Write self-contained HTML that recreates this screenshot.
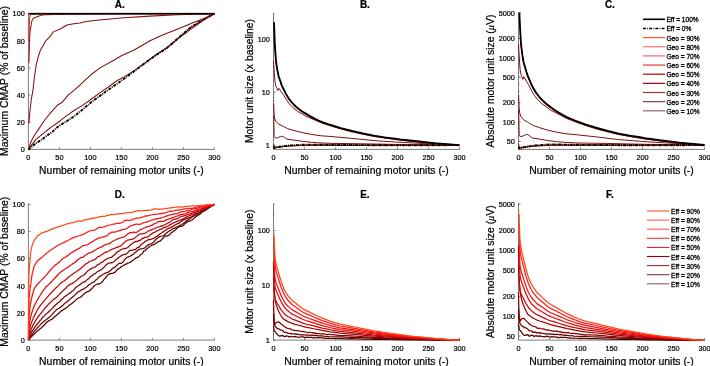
<!DOCTYPE html>
<html><head><meta charset="utf-8"><style>
html,body{margin:0;padding:0;background:#fff;width:710px;height:366px;overflow:hidden}
svg{display:block;filter:blur(0.3px)}
.lg{stroke-width:0.3px}
text{font-family:"Liberation Sans", sans-serif;stroke:#000;stroke-width:0.22px}
</style></head><body>
<svg width="710" height="366" viewBox="0 0 710 366" font-family='"Liberation Sans", sans-serif' fill="#000"><path d="M28.40 13.00V149.40H214.40" fill="none" stroke="#5a5a5a" stroke-width="0.8"/>
<path d="M28.40 149.40v-2.2" stroke="#5a5a5a" stroke-width="0.7"/>
<text x="28.40" y="160.30" font-size="7.8" text-anchor="middle" font-weight="normal" textLength="4.06" lengthAdjust="spacingAndGlyphs" >0</text>
<path d="M59.40 149.40v-2.2" stroke="#5a5a5a" stroke-width="0.7"/>
<text x="59.40" y="160.30" font-size="7.8" text-anchor="middle" font-weight="normal" textLength="8.12" lengthAdjust="spacingAndGlyphs" >50</text>
<path d="M90.40 149.40v-2.2" stroke="#5a5a5a" stroke-width="0.7"/>
<text x="90.40" y="160.30" font-size="7.8" text-anchor="middle" font-weight="normal" textLength="12.18" lengthAdjust="spacingAndGlyphs" >100</text>
<path d="M121.40 149.40v-2.2" stroke="#5a5a5a" stroke-width="0.7"/>
<text x="121.40" y="160.30" font-size="7.8" text-anchor="middle" font-weight="normal" textLength="12.18" lengthAdjust="spacingAndGlyphs" >150</text>
<path d="M152.40 149.40v-2.2" stroke="#5a5a5a" stroke-width="0.7"/>
<text x="152.40" y="160.30" font-size="7.8" text-anchor="middle" font-weight="normal" textLength="12.18" lengthAdjust="spacingAndGlyphs" >200</text>
<path d="M183.40 149.40v-2.2" stroke="#5a5a5a" stroke-width="0.7"/>
<text x="183.40" y="160.30" font-size="7.8" text-anchor="middle" font-weight="normal" textLength="12.18" lengthAdjust="spacingAndGlyphs" >250</text>
<path d="M214.40 149.40v-2.2" stroke="#5a5a5a" stroke-width="0.7"/>
<text x="214.40" y="160.30" font-size="7.8" text-anchor="middle" font-weight="normal" textLength="12.18" lengthAdjust="spacingAndGlyphs" >300</text>
<path d="M28.40 149.40h2.2" stroke="#5a5a5a" stroke-width="0.7"/>
<text x="24.80" y="152.10" font-size="7.8" text-anchor="end" font-weight="normal" textLength="4.06" lengthAdjust="spacingAndGlyphs" >0</text>
<path d="M28.40 122.26h2.2" stroke="#5a5a5a" stroke-width="0.7"/>
<text x="24.80" y="124.96" font-size="7.8" text-anchor="end" font-weight="normal" textLength="8.12" lengthAdjust="spacingAndGlyphs" >20</text>
<path d="M28.40 95.12h2.2" stroke="#5a5a5a" stroke-width="0.7"/>
<text x="24.80" y="97.82" font-size="7.8" text-anchor="end" font-weight="normal" textLength="8.12" lengthAdjust="spacingAndGlyphs" >40</text>
<path d="M28.40 67.98h2.2" stroke="#5a5a5a" stroke-width="0.7"/>
<text x="24.80" y="70.68" font-size="7.8" text-anchor="end" font-weight="normal" textLength="8.12" lengthAdjust="spacingAndGlyphs" >60</text>
<path d="M28.40 40.84h2.2" stroke="#5a5a5a" stroke-width="0.7"/>
<text x="24.80" y="43.54" font-size="7.8" text-anchor="end" font-weight="normal" textLength="8.12" lengthAdjust="spacingAndGlyphs" >80</text>
<path d="M28.40 13.70h2.2" stroke="#5a5a5a" stroke-width="0.7"/>
<text x="24.80" y="16.40" font-size="7.8" text-anchor="end" font-weight="normal" textLength="12.18" lengthAdjust="spacingAndGlyphs" >100</text>
<text x="121.40" y="174.20" font-size="10.4" text-anchor="middle" font-weight="normal" >Number of remaining motor units (-)</text>
<text x="119.80" y="7.60" font-size="10" text-anchor="middle" font-weight="bold" >A.</text>
<path d="M273.50 13.00V149.40H459.50" fill="none" stroke="#5a5a5a" stroke-width="0.8"/>
<path d="M273.50 149.40v-2.2" stroke="#5a5a5a" stroke-width="0.7"/>
<text x="273.50" y="160.30" font-size="7.8" text-anchor="middle" font-weight="normal" textLength="4.06" lengthAdjust="spacingAndGlyphs" >0</text>
<path d="M304.50 149.40v-2.2" stroke="#5a5a5a" stroke-width="0.7"/>
<text x="304.50" y="160.30" font-size="7.8" text-anchor="middle" font-weight="normal" textLength="8.12" lengthAdjust="spacingAndGlyphs" >50</text>
<path d="M335.50 149.40v-2.2" stroke="#5a5a5a" stroke-width="0.7"/>
<text x="335.50" y="160.30" font-size="7.8" text-anchor="middle" font-weight="normal" textLength="12.18" lengthAdjust="spacingAndGlyphs" >100</text>
<path d="M366.50 149.40v-2.2" stroke="#5a5a5a" stroke-width="0.7"/>
<text x="366.50" y="160.30" font-size="7.8" text-anchor="middle" font-weight="normal" textLength="12.18" lengthAdjust="spacingAndGlyphs" >150</text>
<path d="M397.50 149.40v-2.2" stroke="#5a5a5a" stroke-width="0.7"/>
<text x="397.50" y="160.30" font-size="7.8" text-anchor="middle" font-weight="normal" textLength="12.18" lengthAdjust="spacingAndGlyphs" >200</text>
<path d="M428.50 149.40v-2.2" stroke="#5a5a5a" stroke-width="0.7"/>
<text x="428.50" y="160.30" font-size="7.8" text-anchor="middle" font-weight="normal" textLength="12.18" lengthAdjust="spacingAndGlyphs" >250</text>
<path d="M459.50 149.40v-2.2" stroke="#5a5a5a" stroke-width="0.7"/>
<text x="459.50" y="160.30" font-size="7.8" text-anchor="middle" font-weight="normal" textLength="12.18" lengthAdjust="spacingAndGlyphs" >300</text>
<path d="M273.50 145.50h2.2" stroke="#5a5a5a" stroke-width="0.7"/>
<text x="269.90" y="148.20" font-size="7.8" text-anchor="end" font-weight="normal" textLength="4.06" lengthAdjust="spacingAndGlyphs" >1</text>
<path d="M273.50 92.20h2.2" stroke="#5a5a5a" stroke-width="0.7"/>
<text x="269.90" y="94.90" font-size="7.8" text-anchor="end" font-weight="normal" textLength="8.12" lengthAdjust="spacingAndGlyphs" >10</text>
<path d="M273.50 38.90h2.2" stroke="#5a5a5a" stroke-width="0.7"/>
<text x="269.90" y="41.60" font-size="7.8" text-anchor="end" font-weight="normal" textLength="12.18" lengthAdjust="spacingAndGlyphs" >100</text>
<path d="M273.50 129.46h1.2" stroke="#5a5a5a" stroke-width="0.6"/>
<path d="M273.50 120.07h1.2" stroke="#5a5a5a" stroke-width="0.6"/>
<path d="M273.50 113.41h1.2" stroke="#5a5a5a" stroke-width="0.6"/>
<path d="M273.50 108.24h1.2" stroke="#5a5a5a" stroke-width="0.6"/>
<path d="M273.50 104.02h1.2" stroke="#5a5a5a" stroke-width="0.6"/>
<path d="M273.50 100.46h1.2" stroke="#5a5a5a" stroke-width="0.6"/>
<path d="M273.50 97.37h1.2" stroke="#5a5a5a" stroke-width="0.6"/>
<path d="M273.50 94.64h1.2" stroke="#5a5a5a" stroke-width="0.6"/>
<path d="M273.50 76.16h1.2" stroke="#5a5a5a" stroke-width="0.6"/>
<path d="M273.50 66.77h1.2" stroke="#5a5a5a" stroke-width="0.6"/>
<path d="M273.50 60.11h1.2" stroke="#5a5a5a" stroke-width="0.6"/>
<path d="M273.50 54.94h1.2" stroke="#5a5a5a" stroke-width="0.6"/>
<path d="M273.50 50.72h1.2" stroke="#5a5a5a" stroke-width="0.6"/>
<path d="M273.50 47.16h1.2" stroke="#5a5a5a" stroke-width="0.6"/>
<path d="M273.50 44.07h1.2" stroke="#5a5a5a" stroke-width="0.6"/>
<path d="M273.50 41.34h1.2" stroke="#5a5a5a" stroke-width="0.6"/>
<path d="M273.50 22.86h1.2" stroke="#5a5a5a" stroke-width="0.6"/>
<path d="M273.50 13.47h1.2" stroke="#5a5a5a" stroke-width="0.6"/>
<text x="366.50" y="174.20" font-size="10.4" text-anchor="middle" font-weight="normal" >Number of remaining motor units (-)</text>
<text x="364.90" y="7.60" font-size="10" text-anchor="middle" font-weight="bold" >B.</text>
<path d="M518.50 13.00V149.40H704.50" fill="none" stroke="#5a5a5a" stroke-width="0.8"/>
<path d="M518.50 149.40v-2.2" stroke="#5a5a5a" stroke-width="0.7"/>
<text x="518.50" y="160.30" font-size="7.8" text-anchor="middle" font-weight="normal" textLength="4.06" lengthAdjust="spacingAndGlyphs" >0</text>
<path d="M549.50 149.40v-2.2" stroke="#5a5a5a" stroke-width="0.7"/>
<text x="549.50" y="160.30" font-size="7.8" text-anchor="middle" font-weight="normal" textLength="8.12" lengthAdjust="spacingAndGlyphs" >50</text>
<path d="M580.50 149.40v-2.2" stroke="#5a5a5a" stroke-width="0.7"/>
<text x="580.50" y="160.30" font-size="7.8" text-anchor="middle" font-weight="normal" textLength="12.18" lengthAdjust="spacingAndGlyphs" >100</text>
<path d="M611.50 149.40v-2.2" stroke="#5a5a5a" stroke-width="0.7"/>
<text x="611.50" y="160.30" font-size="7.8" text-anchor="middle" font-weight="normal" textLength="12.18" lengthAdjust="spacingAndGlyphs" >150</text>
<path d="M642.50 149.40v-2.2" stroke="#5a5a5a" stroke-width="0.7"/>
<text x="642.50" y="160.30" font-size="7.8" text-anchor="middle" font-weight="normal" textLength="12.18" lengthAdjust="spacingAndGlyphs" >200</text>
<path d="M673.50 149.40v-2.2" stroke="#5a5a5a" stroke-width="0.7"/>
<text x="673.50" y="160.30" font-size="7.8" text-anchor="middle" font-weight="normal" textLength="12.18" lengthAdjust="spacingAndGlyphs" >250</text>
<path d="M704.50 149.40v-2.2" stroke="#5a5a5a" stroke-width="0.7"/>
<text x="704.50" y="160.30" font-size="7.8" text-anchor="middle" font-weight="normal" textLength="12.18" lengthAdjust="spacingAndGlyphs" >300</text>
<path d="M518.50 141.30h2.2" stroke="#5a5a5a" stroke-width="0.7"/>
<text x="514.90" y="144.00" font-size="7.8" text-anchor="end" font-weight="normal" textLength="8.12" lengthAdjust="spacingAndGlyphs" >50</text>
<path d="M518.50 122.00h2.2" stroke="#5a5a5a" stroke-width="0.7"/>
<text x="514.90" y="124.70" font-size="7.8" text-anchor="end" font-weight="normal" textLength="12.18" lengthAdjust="spacingAndGlyphs" >100</text>
<path d="M518.50 102.70h2.2" stroke="#5a5a5a" stroke-width="0.7"/>
<text x="514.90" y="105.40" font-size="7.8" text-anchor="end" font-weight="normal" textLength="12.18" lengthAdjust="spacingAndGlyphs" >200</text>
<path d="M518.50 77.20h2.2" stroke="#5a5a5a" stroke-width="0.7"/>
<text x="514.90" y="79.90" font-size="7.8" text-anchor="end" font-weight="normal" textLength="12.18" lengthAdjust="spacingAndGlyphs" >500</text>
<path d="M518.50 57.90h2.2" stroke="#5a5a5a" stroke-width="0.7"/>
<text x="514.90" y="60.60" font-size="7.8" text-anchor="end" font-weight="normal" textLength="16.24" lengthAdjust="spacingAndGlyphs" >1000</text>
<path d="M518.50 38.60h2.2" stroke="#5a5a5a" stroke-width="0.7"/>
<text x="514.90" y="41.30" font-size="7.8" text-anchor="end" font-weight="normal" textLength="16.24" lengthAdjust="spacingAndGlyphs" >2000</text>
<path d="M518.50 13.10h2.2" stroke="#5a5a5a" stroke-width="0.7"/>
<text x="514.90" y="15.80" font-size="7.8" text-anchor="end" font-weight="normal" textLength="16.24" lengthAdjust="spacingAndGlyphs" >5000</text>
<path d="M518.50 147.51h1.2" stroke="#5a5a5a" stroke-width="0.6"/>
<path d="M518.50 141.30h1.2" stroke="#5a5a5a" stroke-width="0.6"/>
<path d="M518.50 136.22h1.2" stroke="#5a5a5a" stroke-width="0.6"/>
<path d="M518.50 131.93h1.2" stroke="#5a5a5a" stroke-width="0.6"/>
<path d="M518.50 128.21h1.2" stroke="#5a5a5a" stroke-width="0.6"/>
<path d="M518.50 124.93h1.2" stroke="#5a5a5a" stroke-width="0.6"/>
<path d="M518.50 102.70h1.2" stroke="#5a5a5a" stroke-width="0.6"/>
<path d="M518.50 91.42h1.2" stroke="#5a5a5a" stroke-width="0.6"/>
<path d="M518.50 83.41h1.2" stroke="#5a5a5a" stroke-width="0.6"/>
<path d="M518.50 77.20h1.2" stroke="#5a5a5a" stroke-width="0.6"/>
<path d="M518.50 72.12h1.2" stroke="#5a5a5a" stroke-width="0.6"/>
<path d="M518.50 67.83h1.2" stroke="#5a5a5a" stroke-width="0.6"/>
<path d="M518.50 64.11h1.2" stroke="#5a5a5a" stroke-width="0.6"/>
<path d="M518.50 60.83h1.2" stroke="#5a5a5a" stroke-width="0.6"/>
<path d="M518.50 38.60h1.2" stroke="#5a5a5a" stroke-width="0.6"/>
<path d="M518.50 27.32h1.2" stroke="#5a5a5a" stroke-width="0.6"/>
<path d="M518.50 19.31h1.2" stroke="#5a5a5a" stroke-width="0.6"/>
<path d="M518.50 13.10h1.2" stroke="#5a5a5a" stroke-width="0.6"/>
<text x="611.50" y="174.20" font-size="10.4" text-anchor="middle" font-weight="normal" >Number of remaining motor units (-)</text>
<text x="609.90" y="7.60" font-size="10" text-anchor="middle" font-weight="bold" >C.</text>
<path d="M28.40 203.40V340.10H214.40" fill="none" stroke="#5a5a5a" stroke-width="0.8"/>
<path d="M28.40 340.10v-2.2" stroke="#5a5a5a" stroke-width="0.7"/>
<text x="28.40" y="351.00" font-size="7.8" text-anchor="middle" font-weight="normal" textLength="4.06" lengthAdjust="spacingAndGlyphs" >0</text>
<path d="M59.40 340.10v-2.2" stroke="#5a5a5a" stroke-width="0.7"/>
<text x="59.40" y="351.00" font-size="7.8" text-anchor="middle" font-weight="normal" textLength="8.12" lengthAdjust="spacingAndGlyphs" >50</text>
<path d="M90.40 340.10v-2.2" stroke="#5a5a5a" stroke-width="0.7"/>
<text x="90.40" y="351.00" font-size="7.8" text-anchor="middle" font-weight="normal" textLength="12.18" lengthAdjust="spacingAndGlyphs" >100</text>
<path d="M121.40 340.10v-2.2" stroke="#5a5a5a" stroke-width="0.7"/>
<text x="121.40" y="351.00" font-size="7.8" text-anchor="middle" font-weight="normal" textLength="12.18" lengthAdjust="spacingAndGlyphs" >150</text>
<path d="M152.40 340.10v-2.2" stroke="#5a5a5a" stroke-width="0.7"/>
<text x="152.40" y="351.00" font-size="7.8" text-anchor="middle" font-weight="normal" textLength="12.18" lengthAdjust="spacingAndGlyphs" >200</text>
<path d="M183.40 340.10v-2.2" stroke="#5a5a5a" stroke-width="0.7"/>
<text x="183.40" y="351.00" font-size="7.8" text-anchor="middle" font-weight="normal" textLength="12.18" lengthAdjust="spacingAndGlyphs" >250</text>
<path d="M214.40 340.10v-2.2" stroke="#5a5a5a" stroke-width="0.7"/>
<text x="214.40" y="351.00" font-size="7.8" text-anchor="middle" font-weight="normal" textLength="12.18" lengthAdjust="spacingAndGlyphs" >300</text>
<path d="M28.40 340.10h2.2" stroke="#5a5a5a" stroke-width="0.7"/>
<text x="24.80" y="342.80" font-size="7.8" text-anchor="end" font-weight="normal" textLength="4.06" lengthAdjust="spacingAndGlyphs" >0</text>
<path d="M28.40 312.96h2.2" stroke="#5a5a5a" stroke-width="0.7"/>
<text x="24.80" y="315.66" font-size="7.8" text-anchor="end" font-weight="normal" textLength="8.12" lengthAdjust="spacingAndGlyphs" >20</text>
<path d="M28.40 285.82h2.2" stroke="#5a5a5a" stroke-width="0.7"/>
<text x="24.80" y="288.52" font-size="7.8" text-anchor="end" font-weight="normal" textLength="8.12" lengthAdjust="spacingAndGlyphs" >40</text>
<path d="M28.40 258.68h2.2" stroke="#5a5a5a" stroke-width="0.7"/>
<text x="24.80" y="261.38" font-size="7.8" text-anchor="end" font-weight="normal" textLength="8.12" lengthAdjust="spacingAndGlyphs" >60</text>
<path d="M28.40 231.54h2.2" stroke="#5a5a5a" stroke-width="0.7"/>
<text x="24.80" y="234.24" font-size="7.8" text-anchor="end" font-weight="normal" textLength="8.12" lengthAdjust="spacingAndGlyphs" >80</text>
<path d="M28.40 204.40h2.2" stroke="#5a5a5a" stroke-width="0.7"/>
<text x="24.80" y="207.10" font-size="7.8" text-anchor="end" font-weight="normal" textLength="12.18" lengthAdjust="spacingAndGlyphs" >100</text>
<text x="121.40" y="364.90" font-size="10.4" text-anchor="middle" font-weight="normal" >Number of remaining motor units (-)</text>
<text x="119.80" y="198.10" font-size="10" text-anchor="middle" font-weight="bold" >D.</text>
<path d="M273.50 203.40V340.10H459.50" fill="none" stroke="#5a5a5a" stroke-width="0.8"/>
<path d="M273.50 340.10v-2.2" stroke="#5a5a5a" stroke-width="0.7"/>
<text x="273.50" y="351.00" font-size="7.8" text-anchor="middle" font-weight="normal" textLength="4.06" lengthAdjust="spacingAndGlyphs" >0</text>
<path d="M304.50 340.10v-2.2" stroke="#5a5a5a" stroke-width="0.7"/>
<text x="304.50" y="351.00" font-size="7.8" text-anchor="middle" font-weight="normal" textLength="8.12" lengthAdjust="spacingAndGlyphs" >50</text>
<path d="M335.50 340.10v-2.2" stroke="#5a5a5a" stroke-width="0.7"/>
<text x="335.50" y="351.00" font-size="7.8" text-anchor="middle" font-weight="normal" textLength="12.18" lengthAdjust="spacingAndGlyphs" >100</text>
<path d="M366.50 340.10v-2.2" stroke="#5a5a5a" stroke-width="0.7"/>
<text x="366.50" y="351.00" font-size="7.8" text-anchor="middle" font-weight="normal" textLength="12.18" lengthAdjust="spacingAndGlyphs" >150</text>
<path d="M397.50 340.10v-2.2" stroke="#5a5a5a" stroke-width="0.7"/>
<text x="397.50" y="351.00" font-size="7.8" text-anchor="middle" font-weight="normal" textLength="12.18" lengthAdjust="spacingAndGlyphs" >200</text>
<path d="M428.50 340.10v-2.2" stroke="#5a5a5a" stroke-width="0.7"/>
<text x="428.50" y="351.00" font-size="7.8" text-anchor="middle" font-weight="normal" textLength="12.18" lengthAdjust="spacingAndGlyphs" >250</text>
<path d="M459.50 340.10v-2.2" stroke="#5a5a5a" stroke-width="0.7"/>
<text x="459.50" y="351.00" font-size="7.8" text-anchor="middle" font-weight="normal" textLength="12.18" lengthAdjust="spacingAndGlyphs" >300</text>
<path d="M273.50 340.30h2.2" stroke="#5a5a5a" stroke-width="0.7"/>
<text x="269.90" y="343.00" font-size="7.8" text-anchor="end" font-weight="normal" textLength="4.06" lengthAdjust="spacingAndGlyphs" >1</text>
<path d="M273.50 285.45h2.2" stroke="#5a5a5a" stroke-width="0.7"/>
<text x="269.90" y="288.15" font-size="7.8" text-anchor="end" font-weight="normal" textLength="8.12" lengthAdjust="spacingAndGlyphs" >10</text>
<path d="M273.50 230.60h2.2" stroke="#5a5a5a" stroke-width="0.7"/>
<text x="269.90" y="233.30" font-size="7.8" text-anchor="end" font-weight="normal" textLength="12.18" lengthAdjust="spacingAndGlyphs" >100</text>
<path d="M273.50 323.79h1.2" stroke="#5a5a5a" stroke-width="0.6"/>
<path d="M273.50 314.13h1.2" stroke="#5a5a5a" stroke-width="0.6"/>
<path d="M273.50 307.28h1.2" stroke="#5a5a5a" stroke-width="0.6"/>
<path d="M273.50 301.96h1.2" stroke="#5a5a5a" stroke-width="0.6"/>
<path d="M273.50 297.62h1.2" stroke="#5a5a5a" stroke-width="0.6"/>
<path d="M273.50 293.95h1.2" stroke="#5a5a5a" stroke-width="0.6"/>
<path d="M273.50 290.77h1.2" stroke="#5a5a5a" stroke-width="0.6"/>
<path d="M273.50 287.96h1.2" stroke="#5a5a5a" stroke-width="0.6"/>
<path d="M273.50 268.94h1.2" stroke="#5a5a5a" stroke-width="0.6"/>
<path d="M273.50 259.28h1.2" stroke="#5a5a5a" stroke-width="0.6"/>
<path d="M273.50 252.43h1.2" stroke="#5a5a5a" stroke-width="0.6"/>
<path d="M273.50 247.11h1.2" stroke="#5a5a5a" stroke-width="0.6"/>
<path d="M273.50 242.77h1.2" stroke="#5a5a5a" stroke-width="0.6"/>
<path d="M273.50 239.10h1.2" stroke="#5a5a5a" stroke-width="0.6"/>
<path d="M273.50 235.92h1.2" stroke="#5a5a5a" stroke-width="0.6"/>
<path d="M273.50 233.11h1.2" stroke="#5a5a5a" stroke-width="0.6"/>
<path d="M273.50 214.09h1.2" stroke="#5a5a5a" stroke-width="0.6"/>
<path d="M273.50 204.43h1.2" stroke="#5a5a5a" stroke-width="0.6"/>
<text x="366.50" y="364.90" font-size="10.4" text-anchor="middle" font-weight="normal" >Number of remaining motor units (-)</text>
<text x="364.90" y="198.10" font-size="10" text-anchor="middle" font-weight="bold" >E.</text>
<path d="M518.50 203.40V340.10H704.50" fill="none" stroke="#5a5a5a" stroke-width="0.8"/>
<path d="M518.50 340.10v-2.2" stroke="#5a5a5a" stroke-width="0.7"/>
<text x="518.50" y="351.00" font-size="7.8" text-anchor="middle" font-weight="normal" textLength="4.06" lengthAdjust="spacingAndGlyphs" >0</text>
<path d="M549.50 340.10v-2.2" stroke="#5a5a5a" stroke-width="0.7"/>
<text x="549.50" y="351.00" font-size="7.8" text-anchor="middle" font-weight="normal" textLength="8.12" lengthAdjust="spacingAndGlyphs" >50</text>
<path d="M580.50 340.10v-2.2" stroke="#5a5a5a" stroke-width="0.7"/>
<text x="580.50" y="351.00" font-size="7.8" text-anchor="middle" font-weight="normal" textLength="12.18" lengthAdjust="spacingAndGlyphs" >100</text>
<path d="M611.50 340.10v-2.2" stroke="#5a5a5a" stroke-width="0.7"/>
<text x="611.50" y="351.00" font-size="7.8" text-anchor="middle" font-weight="normal" textLength="12.18" lengthAdjust="spacingAndGlyphs" >150</text>
<path d="M642.50 340.10v-2.2" stroke="#5a5a5a" stroke-width="0.7"/>
<text x="642.50" y="351.00" font-size="7.8" text-anchor="middle" font-weight="normal" textLength="12.18" lengthAdjust="spacingAndGlyphs" >200</text>
<path d="M673.50 340.10v-2.2" stroke="#5a5a5a" stroke-width="0.7"/>
<text x="673.50" y="351.00" font-size="7.8" text-anchor="middle" font-weight="normal" textLength="12.18" lengthAdjust="spacingAndGlyphs" >250</text>
<path d="M704.50 340.10v-2.2" stroke="#5a5a5a" stroke-width="0.7"/>
<text x="704.50" y="351.00" font-size="7.8" text-anchor="middle" font-weight="normal" textLength="12.18" lengthAdjust="spacingAndGlyphs" >300</text>
<path d="M518.50 336.17h2.2" stroke="#5a5a5a" stroke-width="0.7"/>
<text x="514.90" y="338.87" font-size="7.8" text-anchor="end" font-weight="normal" textLength="8.12" lengthAdjust="spacingAndGlyphs" >50</text>
<path d="M518.50 316.30h2.2" stroke="#5a5a5a" stroke-width="0.7"/>
<text x="514.90" y="319.00" font-size="7.8" text-anchor="end" font-weight="normal" textLength="12.18" lengthAdjust="spacingAndGlyphs" >100</text>
<path d="M518.50 296.43h2.2" stroke="#5a5a5a" stroke-width="0.7"/>
<text x="514.90" y="299.13" font-size="7.8" text-anchor="end" font-weight="normal" textLength="12.18" lengthAdjust="spacingAndGlyphs" >200</text>
<path d="M518.50 270.17h2.2" stroke="#5a5a5a" stroke-width="0.7"/>
<text x="514.90" y="272.87" font-size="7.8" text-anchor="end" font-weight="normal" textLength="12.18" lengthAdjust="spacingAndGlyphs" >500</text>
<path d="M518.50 250.30h2.2" stroke="#5a5a5a" stroke-width="0.7"/>
<text x="514.90" y="253.00" font-size="7.8" text-anchor="end" font-weight="normal" textLength="16.24" lengthAdjust="spacingAndGlyphs" >1000</text>
<path d="M518.50 230.43h2.2" stroke="#5a5a5a" stroke-width="0.7"/>
<text x="514.90" y="233.13" font-size="7.8" text-anchor="end" font-weight="normal" textLength="16.24" lengthAdjust="spacingAndGlyphs" >2000</text>
<path d="M518.50 204.17h2.2" stroke="#5a5a5a" stroke-width="0.7"/>
<text x="514.90" y="206.87" font-size="7.8" text-anchor="end" font-weight="normal" textLength="16.24" lengthAdjust="spacingAndGlyphs" >5000</text>
<path d="M518.50 336.17h1.2" stroke="#5a5a5a" stroke-width="0.6"/>
<path d="M518.50 330.94h1.2" stroke="#5a5a5a" stroke-width="0.6"/>
<path d="M518.50 326.52h1.2" stroke="#5a5a5a" stroke-width="0.6"/>
<path d="M518.50 322.70h1.2" stroke="#5a5a5a" stroke-width="0.6"/>
<path d="M518.50 319.32h1.2" stroke="#5a5a5a" stroke-width="0.6"/>
<path d="M518.50 296.43h1.2" stroke="#5a5a5a" stroke-width="0.6"/>
<path d="M518.50 284.81h1.2" stroke="#5a5a5a" stroke-width="0.6"/>
<path d="M518.50 276.56h1.2" stroke="#5a5a5a" stroke-width="0.6"/>
<path d="M518.50 270.17h1.2" stroke="#5a5a5a" stroke-width="0.6"/>
<path d="M518.50 264.94h1.2" stroke="#5a5a5a" stroke-width="0.6"/>
<path d="M518.50 260.52h1.2" stroke="#5a5a5a" stroke-width="0.6"/>
<path d="M518.50 256.70h1.2" stroke="#5a5a5a" stroke-width="0.6"/>
<path d="M518.50 253.32h1.2" stroke="#5a5a5a" stroke-width="0.6"/>
<path d="M518.50 230.43h1.2" stroke="#5a5a5a" stroke-width="0.6"/>
<path d="M518.50 218.81h1.2" stroke="#5a5a5a" stroke-width="0.6"/>
<path d="M518.50 210.56h1.2" stroke="#5a5a5a" stroke-width="0.6"/>
<path d="M518.50 204.17h1.2" stroke="#5a5a5a" stroke-width="0.6"/>
<text x="611.50" y="364.90" font-size="10.4" text-anchor="middle" font-weight="normal" >Number of remaining motor units (-)</text>
<text x="609.90" y="198.10" font-size="10" text-anchor="middle" font-weight="bold" >F.</text>
<text transform="translate(7.80,81.00) rotate(-90)" x="0" y="0" font-size="10.4" text-anchor="middle">Maximum CMAP (% of baseline)</text>
<text transform="translate(252.60,81.00) rotate(-90)" x="0" y="0" font-size="10.4" text-anchor="middle">Motor unit size (x baseline)</text>
<text transform="translate(494.10,81.00) rotate(-90)" x="0" y="0" font-size="10.4" text-anchor="middle">Absolute motor unit size (<tspan font-family="Liberation Serif" font-style="italic">&#956;</tspan>V)</text>
<text transform="translate(7.80,271.70) rotate(-90)" x="0" y="0" font-size="10.4" text-anchor="middle">Maximum CMAP (% of baseline)</text>
<text transform="translate(252.60,271.70) rotate(-90)" x="0" y="0" font-size="10.4" text-anchor="middle">Motor unit size (x baseline)</text>
<text transform="translate(494.10,271.70) rotate(-90)" x="0" y="0" font-size="10.4" text-anchor="middle">Absolute motor unit size (<tspan font-family="Liberation Serif" font-style="italic">&#956;</tspan>V)</text>
<defs>
<clipPath id="cA"><rect x="27.40" y="12.40" width="188.00" height="137.80"/></clipPath>
<clipPath id="cB"><rect x="272.50" y="12.40" width="188.00" height="137.80"/></clipPath>
<clipPath id="cC"><rect x="517.50" y="12.40" width="188.00" height="137.80"/></clipPath>
<clipPath id="cD"><rect x="27.40" y="202.80" width="188.00" height="138.10"/></clipPath>
<clipPath id="cE"><rect x="272.50" y="202.80" width="188.00" height="138.10"/></clipPath>
<clipPath id="cF"><rect x="517.50" y="202.80" width="188.00" height="138.10"/></clipPath>
</defs>
<g clip-path="url(#cA)">
<path d="M146.20 62.01 L147.44 61.11 L148.68 60.22 L149.92 59.33 L151.16 58.44 L152.40 57.55 L153.64 56.66 L154.88 55.77 L156.12 54.93 L157.36 54.13 L158.60 53.34 L159.84 52.54 L161.08 51.75 L162.32 50.96 L163.56 50.17 L164.80 49.39 L166.04 48.60 L167.28 47.58 L168.52 46.57 L169.76 45.57 L171.00 44.58 L172.24 43.60 L173.48 42.64 L174.72 41.65 L175.96 40.62 L177.20 39.62 L178.44 38.63 L179.68 37.66 L180.92 36.71 L182.16 35.82 L183.40 34.97 L184.64 34.11 L185.88 33.23 L187.12 32.33 L188.36 31.39 L189.60 30.41 L190.84 29.38 L192.08 28.58 L193.32 27.77 L194.56 26.92 L195.80 26.04 L197.04 25.13 L198.28 24.20 L199.52 23.27 L200.76 22.33 L202.00 21.40 L203.24 20.49 L204.48 19.58 L205.72 18.79 L206.96 18.02 L208.20 17.27 L209.44 16.54 L210.68 15.82 L211.92 15.13 L213.16 14.44 L214.40 13.76" fill="none" stroke="#801414" stroke-width="1.0"  stroke-linejoin="round"/>
<path d="M28.40 149.40 L29.64 148.39 L30.88 147.37 L32.12 146.36 L33.36 145.34 L34.60 144.33 L35.84 143.31 L37.08 142.50 L38.32 141.73 L39.56 140.96 L40.80 140.19 L42.04 139.34 L43.28 138.41 L44.52 137.47 L45.76 136.54 L47.00 135.61 L48.24 134.76 L49.48 133.91 L50.72 133.06 L51.96 132.21 L53.20 131.06 L54.44 129.91 L55.68 128.75 L56.92 127.59 L58.16 126.49 L59.40 125.71 L60.64 124.94 L61.88 124.17 L63.12 123.40 L64.36 122.63 L65.60 121.85 L66.84 121.07 L68.08 120.28 L69.32 119.50 L70.56 118.72 L71.80 117.93 L73.04 117.15 L74.28 116.31 L75.52 115.30 L76.76 114.29 L78.00 113.28 L79.24 112.26 L80.48 111.25 L81.72 110.24 L82.96 109.23 L84.20 108.17 L85.44 107.11 L86.68 106.05 L87.92 104.99 L89.16 103.93 L90.40 102.88 L91.64 101.82 L92.88 100.88 L94.12 99.99 L95.36 99.11 L96.60 98.23 L97.84 97.34 L99.08 96.46 L100.32 95.57 L101.56 94.67 L102.80 93.76 L104.04 92.86 L105.28 91.95 L106.52 91.05 L107.76 90.14 L109.00 89.28 L110.24 88.43 L111.48 87.57 L112.72 86.72 L113.96 85.86 L115.20 85.01 L116.44 84.15 L117.68 83.30 L118.92 82.44 L120.16 81.59 L121.40 80.74 L122.64 79.81 L123.88 78.89 L125.12 77.97 L126.36 77.04 L127.60 76.12 L128.84 75.20 L130.08 74.28 L131.32 73.35 L132.56 72.43 L133.80 71.51 L135.04 70.58 L136.28 69.64 L137.52 68.71 L138.76 67.78 L140.00 66.85 L141.24 65.92 L142.48 64.98 L143.72 64.05 L144.96 63.12 L146.20 62.19 L147.44 61.30 L148.68 60.41 L149.92 59.51 L151.16 58.62 L152.40 57.73 L153.64 56.83 L154.88 55.94 L156.12 55.10 L157.36 54.30 L158.60 53.50 L159.84 52.70 L161.08 51.90 L162.32 51.11 L163.56 50.31 L164.80 49.51 L166.04 48.71 L167.28 47.67 L168.52 46.62 L169.76 45.58 L171.00 44.54 L172.24 43.49 L173.48 42.45 L174.72 41.35 L175.96 40.20 L177.20 39.05 L178.44 37.90 L179.68 36.75 L180.92 35.60 L182.16 34.51 L183.40 33.46 L184.64 32.41 L185.88 31.36 L187.12 30.31 L188.36 29.26 L189.60 28.21 L190.84 27.16 L192.08 26.37 L193.32 25.62 L194.56 24.88 L195.80 24.14 L197.04 23.39 L198.28 22.65 L199.52 21.91 L200.76 21.16 L202.00 20.42 L203.24 19.67 L204.48 18.93 L205.72 18.27 L206.96 17.62 L208.20 16.96 L209.44 16.31 L210.68 15.66 L211.92 15.01 L213.16 14.35 L214.40 13.70" fill="none" stroke="#d0a0a0" stroke-width="0.5"  stroke-linejoin="round"/>
<path d="M28.40 149.40 L30.88 145.87 L36.03 139.36 L41.48 134.88 L46.88 130.54 L52.02 126.60 L57.97 122.53 L63.49 118.19 L68.89 114.12 L73.97 110.45 L82.96 105.16 L92.01 98.51 L100.20 92.68 L108.01 87.25 L116.44 81.01 L124.50 76.66 L133.80 70.83 L146.08 62.14 L155.50 54.95 L166.04 48.17 L174.10 41.65 L182.78 34.60 L190.84 27.81 L204.60 18.99 L214.40 13.70" fill="none" stroke="#7d1010" stroke-width="1.05"  stroke-linejoin="round"/>
<path d="M28.40 149.40 L30.26 147.88 L32.12 146.36 L33.98 144.83 L35.84 143.31 L37.70 142.12 L39.56 140.96 L41.42 139.80 L43.28 138.41 L45.14 137.00 L47.00 135.61 L48.86 134.33 L50.72 133.06 L52.58 131.64 L54.44 129.91 L56.30 128.17 L58.16 126.49 L60.02 125.33 L61.88 124.17 L63.74 123.01 L65.60 121.85 L67.46 120.68 L69.32 119.50 L71.18 118.32 L73.04 117.15 L74.90 115.80 L76.76 114.29 L78.62 112.77 L80.48 111.25 L82.34 109.74 L84.20 108.17 L86.06 106.58 L87.92 104.99 L89.78 103.41 L91.64 101.82 L93.50 100.44 L95.36 99.11 L97.22 97.78 L99.08 96.46 L100.94 95.12 L102.80 93.76 L104.66 92.41 L106.52 91.05 L108.38 89.71 L110.24 88.43 L112.10 87.14 L113.96 85.86 L115.82 84.58 L117.68 83.30 L119.54 82.02 L121.40 80.74 L123.26 79.35 L125.12 77.97 L126.98 76.58 L128.84 75.20 L130.70 73.82 L132.56 72.43 L134.42 71.04 L136.28 69.64 L138.14 68.25 L140.00 66.85 L141.86 65.45 L143.72 64.05 L145.58 62.65 L147.44 61.30 L149.30 59.96 L151.16 58.62 L153.02 57.28 L154.88 55.94 L156.74 54.70 L158.60 53.50 L160.46 52.30 L162.32 51.11 L164.18 49.91 L166.04 48.71 L167.90 47.14 L169.76 45.58 L171.62 44.01 L173.48 42.45 L175.34 40.78 L177.20 39.05 L179.06 37.33 L180.92 35.60 L182.78 33.98 L184.64 32.41 L186.50 30.83 L188.36 29.26 L190.22 27.68 L192.08 26.37 L193.94 25.25 L195.80 24.14 L197.66 23.02 L199.52 21.91 L201.38 20.79 L203.24 19.67 L205.10 18.60 L206.96 17.62 L208.82 16.64 L210.68 15.66 L212.54 14.68 L214.40 13.70" fill="none" stroke="#000" stroke-width="1.9" stroke-dasharray="2.8 1.1 0.9 1.1" stroke-linejoin="round"/>
<path d="M28.40 149.40 L30.88 141.94 L34.10 135.69 L39.13 128.37 L44.02 121.04 L50.10 113.30 L57.48 105.03 L62.31 102.18 L68.39 94.85 L74.59 89.96 L80.11 84.94 L85.38 79.92 L90.90 74.77 L100.01 67.84 L113.71 60.25 L121.90 55.50 L134.17 50.07 L149.98 40.70 L163.68 34.46 L177.32 29.17 L191.03 23.61 L204.60 18.18 L214.40 13.70" fill="none" stroke="#7d1010" stroke-width="1.05"  stroke-linejoin="round"/>
<path d="M28.90 123.35 L29.89 111.27 L31.38 99.06 L33.11 89.15 L34.41 76.94 L36.27 64.59 L38.07 57.26 L40.49 49.80 L42.97 46.13 L45.39 41.25 L46.50 40.03 L50.60 35.95 L53.32 31.88 L60.21 29.03 L67.03 24.96 L73.78 23.74 L79.98 23.06 L86.00 21.57 L101.87 19.81 L123.82 17.77 L149.92 16.14 L177.20 14.65 L195.80 14.24 L214.40 13.70" fill="none" stroke="#861010" stroke-width="1.05"  stroke-linejoin="round"/>
<path d="M28.77 63.09 L29.02 59.84 L29.33 51.02 L29.58 39.48 L30.07 31.34 L30.88 26.46 L31.69 21.43 L33.36 18.18 L37.51 16.55 L42.41 14.92 L46.01 14.65 L65.60 14.24 L121.40 13.84 L214.40 13.70" fill="none" stroke="#a01414" stroke-width="1.05"  stroke-linejoin="round"/>
<path d="M28.96 40.84 L29.14 29.98 L29.33 24.56 L29.64 17.77 L30.26 14.92 L32.12 14.24 L40.80 13.97 L214.40 13.70" fill="none" stroke="#cc1a1a" stroke-width="1.0"  stroke-linejoin="round"/>
<path d="M28.40 13.70 L214.40 13.70" fill="none" stroke="#000" stroke-width="1.8"  stroke-linejoin="round"/>
</g>
<g clip-path="url(#cD)">
<path d="M28.40 340.10 L29.02 339.30 L29.64 338.60 L30.26 337.92 L30.88 337.28 L31.50 336.62 L32.12 336.00 L32.74 335.41 L33.36 334.81 L33.98 334.19 L34.60 333.67 L35.22 333.04 L35.84 332.37 L37.08 331.29 L38.32 330.30 L39.56 329.16 L40.80 328.45 L42.04 327.16 L43.28 325.95 L44.52 324.74 L45.76 323.30 L47.00 322.06 L48.24 321.14 L49.48 320.60 L50.72 319.79 L51.96 319.21 L53.20 318.26 L54.44 316.89 L55.68 316.08 L56.92 314.79 L58.16 313.85 L59.40 312.86 L60.64 311.46 L61.88 310.63 L63.12 309.68 L64.36 309.12 L65.60 308.26 L66.84 307.47 L68.08 306.38 L69.32 305.03 L70.56 304.57 L71.80 303.47 L73.04 302.46 L74.28 301.49 L75.52 300.40 L76.76 299.18 L78.00 298.28 L79.24 297.69 L80.48 297.08 L81.72 296.33 L82.96 294.90 L84.20 293.83 L85.44 292.60 L86.68 291.94 L87.92 291.57 L89.16 291.18 L90.40 289.77 L91.64 288.74 L92.88 287.62 L94.12 285.83 L95.36 284.98 L96.60 284.50 L97.84 283.93 L99.08 284.05 L100.32 283.38 L101.56 282.40 L102.80 281.28 L104.04 279.24 L105.28 278.18 L106.52 276.68 L107.76 275.00 L109.00 274.39 L110.24 273.65 L111.48 273.31 L112.72 273.49 L113.96 272.61 L115.20 272.09 L116.44 270.68 L117.68 269.29 L118.92 268.65 L120.16 267.70 L121.40 266.55 L122.64 266.10 L123.88 265.16 L125.12 264.37 L126.36 264.17 L127.60 263.01 L128.84 262.87 L130.08 262.37 L131.32 261.53 L132.56 260.45 L133.80 259.76 L135.04 258.69 L136.28 257.82 L137.52 257.35 L138.76 256.56 L140.00 255.02 L141.24 254.18 L142.48 253.43 L143.72 250.99 L144.96 250.86 L146.20 249.42 L147.44 248.27 L148.68 247.56 L149.92 246.10 L151.16 245.77 L152.40 244.86 L153.64 244.73 L154.88 244.00 L156.12 242.80 L157.36 242.35 L158.60 241.42 L159.84 241.29 L161.08 240.31 L162.32 238.82 L163.56 237.71 L164.80 235.97 L166.04 236.13 L167.28 235.94 L168.52 235.33 L169.76 234.59 L171.00 232.99 L172.24 232.23 L173.48 231.13 L174.72 230.67 L175.96 229.42 L177.20 227.99 L178.44 227.15 L179.68 226.49 L180.92 226.32 L182.16 226.09 L183.40 225.47 L184.64 223.82 L185.88 223.11 L187.12 221.93 L188.36 221.13 L189.60 221.06 L190.84 220.56 L192.08 219.87 L193.32 219.07 L194.56 217.88 L195.80 216.78 L197.04 215.89 L198.28 215.09 L199.52 214.45 L200.76 213.23 L202.00 212.28 L203.24 211.58 L204.48 210.71 L205.72 210.07 L206.96 209.21 L208.20 208.40 L209.44 207.49 L210.68 206.71 L211.92 206.00 L213.16 205.21 L214.40 204.40" fill="none" stroke="#560000" stroke-width="1.25"  stroke-linejoin="round"/>
<path d="M28.40 340.10 L29.02 338.69 L29.64 337.64 L30.26 336.71 L30.88 335.85 L31.50 335.03 L32.12 334.23 L32.74 333.45 L33.36 332.69 L33.98 331.90 L34.60 331.07 L35.22 330.24 L35.84 329.55 L37.08 328.04 L38.32 326.71 L39.56 325.59 L40.80 324.12 L42.04 323.07 L43.28 321.96 L44.52 320.70 L45.76 319.91 L47.00 319.04 L48.24 317.96 L49.48 317.07 L50.72 315.90 L51.96 314.57 L53.20 313.12 L54.44 311.91 L55.68 310.65 L56.92 309.40 L58.16 308.80 L59.40 308.09 L60.64 307.27 L61.88 306.05 L63.12 305.18 L64.36 303.65 L65.60 302.64 L66.84 301.97 L68.08 300.79 L69.32 299.80 L70.56 298.61 L71.80 297.82 L73.04 296.53 L74.28 295.65 L75.52 294.42 L76.76 293.19 L78.00 292.00 L79.24 291.35 L80.48 290.69 L81.72 289.66 L82.96 289.35 L84.20 288.62 L85.44 287.71 L86.68 286.96 L87.92 285.68 L89.16 284.49 L90.40 284.09 L91.64 282.83 L92.88 282.43 L94.12 281.87 L95.36 280.35 L96.60 279.50 L97.84 278.36 L99.08 277.00 L100.32 276.19 L101.56 275.36 L102.80 274.45 L104.04 273.71 L105.28 273.20 L106.52 272.80 L107.76 272.39 L109.00 271.61 L110.24 270.41 L111.48 269.62 L112.72 268.11 L113.96 267.62 L115.20 266.82 L116.44 265.56 L117.68 264.74 L118.92 263.41 L120.16 263.49 L121.40 263.39 L122.64 262.13 L123.88 260.97 L125.12 258.98 L126.36 257.70 L127.60 257.02 L128.84 256.61 L130.08 256.33 L131.32 255.28 L132.56 254.89 L133.80 253.76 L135.04 252.40 L136.28 251.73 L137.52 250.33 L138.76 249.68 L140.00 249.02 L141.24 248.77 L142.48 248.61 L143.72 248.38 L144.96 247.81 L146.20 246.43 L147.44 245.49 L148.68 244.57 L149.92 244.20 L151.16 243.98 L152.40 242.89 L153.64 241.98 L154.88 240.68 L156.12 238.80 L157.36 238.33 L158.60 237.09 L159.84 236.43 L161.08 236.39 L162.32 236.01 L163.56 235.56 L164.80 234.68 L166.04 233.52 L167.28 232.42 L168.52 231.51 L169.76 230.69 L171.00 230.37 L172.24 229.12 L173.48 228.29 L174.72 228.27 L175.96 227.25 L177.20 226.85 L178.44 226.58 L179.68 225.27 L180.92 225.17 L182.16 224.35 L183.40 223.20 L184.64 222.46 L185.88 221.19 L187.12 220.38 L188.36 219.76 L189.60 218.68 L190.84 218.01 L192.08 217.16 L193.32 216.23 L194.56 215.98 L195.80 215.04 L197.04 214.51 L198.28 213.90 L199.52 213.03 L200.76 212.28 L202.00 211.20 L203.24 210.71 L204.48 209.99 L205.72 209.33 L206.96 208.82 L208.20 207.88 L209.44 207.14 L210.68 206.50 L211.92 205.84 L213.16 205.08 L214.40 204.40" fill="none" stroke="#6e0000" stroke-width="1.25"  stroke-linejoin="round"/>
<path d="M28.40 340.10 L29.02 337.60 L29.64 336.04 L30.26 334.72 L30.88 333.52 L31.50 332.42 L32.12 331.39 L32.74 330.40 L33.36 329.43 L33.98 328.46 L34.60 327.56 L35.22 326.70 L35.84 325.81 L37.08 324.25 L38.32 322.86 L39.56 321.26 L40.80 319.85 L42.04 318.22 L43.28 316.74 L44.52 315.63 L45.76 314.34 L47.00 313.40 L48.24 312.21 L49.48 311.01 L50.72 309.95 L51.96 308.60 L53.20 307.49 L54.44 306.00 L55.68 304.82 L56.92 303.81 L58.16 302.54 L59.40 301.95 L60.64 300.52 L61.88 299.32 L63.12 298.19 L64.36 296.76 L65.60 295.90 L66.84 295.40 L68.08 294.16 L69.32 293.35 L70.56 292.89 L71.80 291.38 L73.04 290.72 L74.28 289.33 L75.52 287.80 L76.76 286.79 L78.00 285.99 L79.24 284.97 L80.48 284.15 L81.72 283.35 L82.96 282.19 L84.20 282.23 L85.44 281.16 L86.68 280.09 L87.92 279.33 L89.16 278.07 L90.40 276.77 L91.64 275.88 L92.88 274.97 L94.12 273.80 L95.36 273.55 L96.60 272.33 L97.84 271.49 L99.08 270.87 L100.32 269.95 L101.56 269.59 L102.80 268.24 L104.04 267.19 L105.28 265.82 L106.52 264.32 L107.76 263.70 L109.00 263.02 L110.24 262.93 L111.48 262.88 L112.72 262.40 L113.96 261.67 L115.20 260.31 L116.44 259.28 L117.68 258.44 L118.92 257.24 L120.16 256.41 L121.40 255.62 L122.64 254.81 L123.88 254.61 L125.12 254.39 L126.36 253.70 L127.60 252.91 L128.84 251.16 L130.08 250.34 L131.32 250.42 L132.56 250.15 L133.80 249.73 L135.04 249.71 L136.28 248.67 L137.52 247.40 L138.76 247.51 L140.00 245.91 L141.24 244.35 L142.48 243.80 L143.72 242.68 L144.96 241.48 L146.20 240.92 L147.44 240.23 L148.68 239.39 L149.92 239.54 L151.16 239.22 L152.40 238.55 L153.64 238.29 L154.88 237.48 L156.12 236.68 L157.36 235.92 L158.60 234.99 L159.84 233.93 L161.08 233.21 L162.32 232.54 L163.56 231.39 L164.80 230.69 L166.04 230.02 L167.28 228.90 L168.52 228.46 L169.76 228.21 L171.00 227.22 L172.24 226.96 L173.48 226.06 L174.72 225.16 L175.96 224.53 L177.20 223.79 L178.44 223.38 L179.68 222.55 L180.92 221.86 L182.16 220.85 L183.40 219.92 L184.64 219.36 L185.88 218.95 L187.12 218.44 L188.36 218.18 L189.60 217.56 L190.84 217.00 L192.08 216.49 L193.32 215.46 L194.56 214.80 L195.80 214.02 L197.04 213.39 L198.28 213.04 L199.52 212.38 L200.76 211.43 L202.00 210.61 L203.24 209.94 L204.48 209.23 L205.72 208.81 L206.96 208.24 L208.20 207.59 L209.44 206.95 L210.68 206.38 L211.92 205.74 L213.16 205.10 L214.40 204.40" fill="none" stroke="#880000" stroke-width="1.25"  stroke-linejoin="round"/>
<path d="M28.40 340.10 L29.02 335.67 L29.64 333.39 L30.26 331.54 L30.88 329.94 L31.50 328.48 L32.12 327.13 L32.74 325.85 L33.36 324.63 L33.98 323.44 L34.60 322.32 L35.22 321.29 L35.84 320.12 L37.08 318.24 L38.32 316.53 L39.56 314.96 L40.80 313.52 L42.04 311.87 L43.28 310.46 L44.52 308.84 L45.76 307.24 L47.00 306.01 L48.24 304.64 L49.48 303.26 L50.72 302.17 L51.96 300.86 L53.20 299.82 L54.44 298.86 L55.68 298.07 L56.92 297.07 L58.16 295.58 L59.40 294.34 L60.64 292.84 L61.88 291.69 L63.12 290.70 L64.36 289.49 L65.60 288.55 L66.84 286.82 L68.08 285.59 L69.32 284.92 L70.56 283.85 L71.80 283.77 L73.04 283.11 L74.28 282.07 L75.52 281.23 L76.76 280.13 L78.00 279.08 L79.24 277.97 L80.48 277.03 L81.72 276.12 L82.96 275.56 L84.20 274.71 L85.44 273.45 L86.68 272.19 L87.92 270.74 L89.16 269.99 L90.40 268.84 L91.64 268.19 L92.88 268.04 L94.12 267.00 L95.36 266.93 L96.60 265.75 L97.84 264.43 L99.08 264.34 L100.32 263.14 L101.56 262.33 L102.80 262.03 L104.04 260.66 L105.28 259.65 L106.52 259.21 L107.76 258.53 L109.00 257.98 L110.24 257.53 L111.48 257.47 L112.72 256.26 L113.96 255.15 L115.20 254.38 L116.44 252.57 L117.68 251.59 L118.92 251.39 L120.16 250.24 L121.40 249.41 L122.64 249.02 L123.88 248.34 L125.12 248.54 L126.36 248.21 L127.60 247.41 L128.84 246.55 L130.08 245.09 L131.32 244.22 L132.56 243.26 L133.80 242.42 L135.04 241.83 L136.28 241.41 L137.52 241.56 L138.76 240.47 L140.00 240.57 L141.24 239.52 L142.48 238.20 L143.72 238.29 L144.96 237.28 L146.20 237.17 L147.44 237.09 L148.68 236.17 L149.92 235.19 L151.16 234.00 L152.40 233.37 L153.64 232.55 L154.88 232.07 L156.12 231.51 L157.36 230.58 L158.60 230.27 L159.84 229.53 L161.08 229.06 L162.32 228.71 L163.56 227.73 L164.80 227.58 L166.04 226.89 L167.28 226.24 L168.52 225.98 L169.76 224.88 L171.00 224.39 L172.24 223.59 L173.48 222.84 L174.72 222.38 L175.96 221.74 L177.20 221.31 L178.44 220.76 L179.68 220.32 L180.92 219.82 L182.16 219.35 L183.40 218.67 L184.64 217.95 L185.88 217.35 L187.12 216.67 L188.36 216.27 L189.60 215.59 L190.84 215.17 L192.08 214.47 L193.32 213.99 L194.56 213.42 L195.80 212.70 L197.04 211.98 L198.28 211.39 L199.52 210.98 L200.76 210.46 L202.00 210.02 L203.24 209.38 L204.48 208.68 L205.72 208.02 L206.96 207.35 L208.20 206.78 L209.44 206.29 L210.68 205.86 L211.92 205.39 L213.16 204.89 L214.40 204.40" fill="none" stroke="#a00404" stroke-width="1.25"  stroke-linejoin="round"/>
<path d="M28.40 340.10 L29.02 332.26 L29.64 329.02 L30.26 326.53 L30.88 324.43 L31.50 322.59 L32.12 320.93 L32.74 319.41 L33.36 317.98 L33.98 316.64 L34.60 315.37 L35.22 314.12 L35.84 312.93 L37.08 310.55 L38.32 308.47 L39.56 306.65 L40.80 304.97 L42.04 303.43 L43.28 301.81 L44.52 300.44 L45.76 298.86 L47.00 297.47 L48.24 296.15 L49.48 294.54 L50.72 293.43 L51.96 292.02 L53.20 290.58 L54.44 289.56 L55.68 288.16 L56.92 287.00 L58.16 285.86 L59.40 284.43 L60.64 283.16 L61.88 282.29 L63.12 281.46 L64.36 280.70 L65.60 279.70 L66.84 278.68 L68.08 277.46 L69.32 276.48 L70.56 275.69 L71.80 274.79 L73.04 273.82 L74.28 272.95 L75.52 272.29 L76.76 271.36 L78.00 270.37 L79.24 269.64 L80.48 268.79 L81.72 267.49 L82.96 266.58 L84.20 265.53 L85.44 264.01 L86.68 263.45 L87.92 262.87 L89.16 261.52 L90.40 261.26 L91.64 260.68 L92.88 260.00 L94.12 260.09 L95.36 259.01 L96.60 258.14 L97.84 256.78 L99.08 256.36 L100.32 255.79 L101.56 254.66 L102.80 254.26 L104.04 252.92 L105.28 252.19 L106.52 252.29 L107.76 251.52 L109.00 251.04 L110.24 250.13 L111.48 249.51 L112.72 248.91 L113.96 248.66 L115.20 248.08 L116.44 247.36 L117.68 247.48 L118.92 246.33 L120.16 246.25 L121.40 245.56 L122.64 244.05 L123.88 243.12 L125.12 241.85 L126.36 240.79 L127.60 240.01 L128.84 239.98 L130.08 239.66 L131.32 239.45 L132.56 239.34 L133.80 238.51 L135.04 237.72 L136.28 236.67 L137.52 235.85 L138.76 234.83 L140.00 233.97 L141.24 233.91 L142.48 233.78 L143.72 233.47 L144.96 233.28 L146.20 232.45 L147.44 231.67 L148.68 230.84 L149.92 230.21 L151.16 230.12 L152.40 229.30 L153.64 229.02 L154.88 228.55 L156.12 227.79 L157.36 227.27 L158.60 226.91 L159.84 226.57 L161.08 225.84 L162.32 226.10 L163.56 225.32 L164.80 224.53 L166.04 224.25 L167.28 223.12 L168.52 222.87 L169.76 222.10 L171.00 221.25 L172.24 220.27 L173.48 219.41 L174.72 219.28 L175.96 218.93 L177.20 218.85 L178.44 218.05 L179.68 217.36 L180.92 216.46 L182.16 216.16 L183.40 216.22 L184.64 215.58 L185.88 215.32 L187.12 214.80 L188.36 214.14 L189.60 214.12 L190.84 213.57 L192.08 213.12 L193.32 212.74 L194.56 211.77 L195.80 211.52 L197.04 210.96 L198.28 210.47 L199.52 210.02 L200.76 209.30 L202.00 208.62 L203.24 208.33 L204.48 208.02 L205.72 207.60 L206.96 207.37 L208.20 206.73 L209.44 206.30 L210.68 205.84 L211.92 205.36 L213.16 204.89 L214.40 204.40" fill="none" stroke="#c80808" stroke-width="1.25"  stroke-linejoin="round"/>
<path d="M28.40 340.10 L29.02 326.24 L29.64 321.81 L30.26 318.59 L30.88 315.95 L31.50 313.69 L32.12 311.69 L32.74 309.90 L33.36 308.26 L33.98 306.77 L34.60 305.30 L35.22 304.00 L35.84 302.77 L37.08 300.50 L38.32 298.31 L39.56 296.28 L40.80 294.36 L42.04 292.26 L43.28 290.47 L44.52 288.87 L45.76 287.17 L47.00 286.07 L48.24 284.86 L49.48 283.67 L50.72 282.55 L51.96 281.07 L53.20 279.82 L54.44 278.35 L55.68 277.36 L56.92 275.97 L58.16 274.53 L59.40 273.39 L60.64 272.04 L61.88 271.28 L63.12 270.32 L64.36 269.53 L65.60 268.78 L66.84 267.86 L68.08 267.28 L69.32 266.14 L70.56 265.32 L71.80 264.58 L73.04 263.54 L74.28 263.01 L75.52 262.03 L76.76 260.79 L78.00 259.54 L79.24 258.72 L80.48 257.92 L81.72 257.29 L82.96 257.36 L84.20 256.18 L85.44 255.02 L86.68 254.56 L87.92 253.49 L89.16 252.89 L90.40 252.80 L91.64 252.15 L92.88 251.64 L94.12 250.80 L95.36 249.95 L96.60 249.21 L97.84 248.28 L99.08 248.04 L100.32 247.39 L101.56 246.87 L102.80 246.36 L104.04 245.03 L105.28 244.65 L106.52 244.29 L107.76 243.79 L109.00 243.99 L110.24 243.13 L111.48 241.95 L112.72 241.31 L113.96 240.53 L115.20 240.03 L116.44 239.46 L117.68 238.85 L118.92 238.44 L120.16 238.01 L121.40 237.51 L122.64 237.38 L123.88 237.04 L125.12 236.26 L126.36 235.22 L127.60 233.87 L128.84 233.38 L130.08 232.66 L131.32 232.34 L132.56 232.78 L133.80 231.97 L135.04 232.32 L136.28 232.63 L137.52 231.50 L138.76 231.14 L140.00 230.06 L141.24 229.10 L142.48 228.80 L143.72 228.27 L144.96 227.72 L146.20 227.15 L147.44 226.63 L148.68 226.32 L149.92 225.89 L151.16 225.37 L152.40 225.08 L153.64 224.05 L154.88 223.54 L156.12 223.24 L157.36 222.12 L158.60 221.66 L159.84 221.66 L161.08 221.29 L162.32 221.48 L163.56 221.27 L164.80 220.69 L166.04 220.16 L167.28 219.38 L168.52 219.13 L169.76 218.69 L171.00 218.47 L172.24 217.81 L173.48 217.44 L174.72 217.02 L175.96 216.25 L177.20 216.21 L178.44 215.41 L179.68 214.87 L180.92 214.53 L182.16 214.42 L183.40 214.35 L184.64 213.97 L185.88 213.65 L187.12 212.85 L188.36 212.29 L189.60 211.98 L190.84 211.93 L192.08 211.65 L193.32 211.44 L194.56 210.85 L195.80 210.04 L197.04 209.60 L198.28 209.09 L199.52 208.75 L200.76 208.57 L202.00 208.21 L203.24 207.86 L204.48 207.55 L205.72 207.11 L206.96 206.66 L208.20 206.30 L209.44 205.86 L210.68 205.45 L211.92 205.12 L213.16 204.74 L214.40 204.40" fill="none" stroke="#e00c0c" stroke-width="1.25"  stroke-linejoin="round"/>
<path d="M28.40 340.10 L29.02 315.67 L30.26 304.82 L32.12 296.00 L34.23 288.53 L37.20 284.46 L41.30 280.39 L47.12 274.15 L48.24 272.69 L48.86 271.93 L49.48 271.18 L50.10 270.47 L50.72 269.75 L51.96 268.39 L53.20 267.11 L54.44 265.85 L55.68 264.86 L56.92 264.02 L58.16 263.02 L59.40 262.04 L60.64 260.65 L61.88 259.50 L63.12 258.47 L64.36 257.79 L65.60 257.03 L66.84 256.13 L68.08 255.40 L69.32 254.22 L70.56 253.32 L71.80 252.64 L73.04 251.86 L74.28 250.84 L75.52 250.39 L76.76 249.54 L78.00 248.81 L79.24 248.40 L80.48 247.33 L81.72 246.61 L82.96 245.69 L84.20 245.46 L85.44 245.20 L86.68 244.76 L87.92 244.56 L89.16 243.48 L90.40 242.87 L91.64 242.05 L92.88 241.37 L94.12 240.57 L95.36 239.80 L96.60 239.11 L97.84 238.35 L99.08 237.88 L100.32 237.77 L101.56 237.39 L102.80 236.79 L104.04 237.02 L105.28 236.17 L106.52 235.89 L107.76 235.23 L109.00 233.62 L110.24 233.10 L111.48 232.16 L112.72 232.16 L113.96 232.32 L115.20 231.78 L116.44 231.67 L117.68 231.22 L118.92 230.64 L120.16 230.52 L121.40 229.86 L122.64 229.56 L123.88 229.47 L125.12 229.13 L126.36 228.76 L127.60 227.89 L128.84 226.83 L130.08 226.26 L131.32 225.70 L132.56 225.29 L133.80 224.98 L135.04 224.37 L136.28 224.03 L137.52 224.21 L138.76 224.51 L140.00 224.16 L141.24 224.01 L142.48 223.23 L143.72 222.62 L144.96 222.44 L146.20 222.02 L147.44 221.87 L148.68 221.10 L149.92 220.79 L151.16 220.24 L152.40 219.93 L153.64 219.67 L154.88 219.21 L156.12 219.22 L157.36 218.58 L158.60 218.43 L159.84 218.32 L161.08 217.77 L162.32 217.61 L163.56 217.24 L164.80 216.63 L166.04 216.20 L167.28 215.83 L168.52 215.46 L169.76 215.02 L171.00 214.61 L172.24 214.29 L173.48 214.04 L174.72 213.90 L175.96 213.90 L177.20 213.57 L178.44 213.04 L179.68 212.51 L180.92 211.92 L182.16 211.73 L183.40 211.53 L184.64 211.30 L185.88 211.01 L187.12 210.69 L188.36 210.53 L189.60 210.25 L190.84 209.93 L192.08 209.41 L193.32 208.99 L194.56 208.70 L195.80 208.60 L197.04 208.26 L198.28 207.96 L199.52 207.52 L200.76 207.05 L202.00 206.87 L203.24 206.57 L204.48 206.41 L205.72 206.18 L206.96 205.91 L208.20 205.72 L209.44 205.46 L210.68 205.22 L211.92 204.94 L213.16 204.66 L214.40 204.40" fill="none" stroke="#f51010" stroke-width="1.25"  stroke-linejoin="round"/>
<path d="M28.40 340.10 L29.02 300.07 L29.76 291.25 L30.69 284.46 L32.12 274.15 L34.23 266.01 L37.20 260.85 L41.30 257.87 L47.12 252.71 L48.24 251.89 L48.86 251.45 L49.48 251.01 L50.10 250.57 L51.34 249.80 L52.58 248.91 L53.82 248.05 L55.06 247.14 L56.30 246.27 L57.54 245.48 L58.78 244.75 L60.02 244.26 L61.26 243.87 L62.50 243.06 L63.74 242.61 L64.98 241.91 L66.22 241.07 L67.46 240.80 L68.70 239.98 L69.94 239.48 L71.18 238.63 L72.42 238.11 L73.66 237.42 L74.90 236.95 L76.14 236.80 L77.38 236.16 L78.62 235.86 L79.86 235.51 L81.10 235.07 L82.34 234.72 L83.58 234.39 L84.82 233.48 L86.06 232.94 L87.30 232.18 L88.54 231.39 L89.78 231.02 L91.02 230.50 L92.26 230.35 L93.50 230.42 L94.74 230.09 L95.98 229.33 L97.22 228.36 L98.46 227.80 L99.70 227.21 L100.94 227.43 L102.18 227.54 L103.42 227.01 L104.66 226.73 L105.90 226.03 L107.14 225.63 L108.38 225.47 L109.62 225.00 L110.86 224.77 L112.10 224.27 L113.34 224.12 L114.58 224.02 L115.82 223.61 L117.06 223.40 L118.30 223.12 L119.54 223.43 L120.78 222.87 L122.02 222.73 L123.26 221.63 L124.50 220.46 L125.74 220.59 L126.98 219.97 L128.22 220.47 L129.46 220.49 L130.70 220.17 L131.94 220.03 L133.18 219.09 L134.42 218.79 L135.66 218.36 L136.90 218.21 L138.14 218.11 L139.38 217.78 L140.62 217.86 L141.86 217.05 L143.10 216.77 L144.34 216.54 L145.58 215.67 L146.82 216.11 L148.06 215.73 L149.30 215.42 L150.54 215.23 L151.78 214.75 L153.02 214.66 L154.26 214.26 L155.50 214.34 L156.74 214.26 L157.98 213.77 L159.22 213.90 L160.46 213.84 L161.70 213.15 L162.94 213.36 L164.18 213.07 L165.42 212.63 L166.66 212.31 L167.90 211.90 L169.14 211.51 L170.38 211.08 L171.62 211.38 L172.86 211.22 L174.10 210.76 L175.34 210.43 L176.58 210.11 L177.82 209.95 L179.06 210.06 L180.30 209.75 L181.54 209.43 L182.78 209.19 L184.02 208.79 L185.26 208.87 L186.50 208.57 L187.74 208.51 L188.98 208.50 L190.22 208.46 L191.46 208.47 L192.70 208.20 L193.94 207.82 L195.18 207.39 L196.42 207.15 L197.66 206.92 L198.90 206.59 L200.14 206.31 L201.38 206.12 L202.62 206.00 L203.86 205.92 L205.10 205.80 L206.34 205.53 L207.58 205.25 L208.82 205.13 L210.06 205.04 L211.30 204.82 L212.54 204.65 L213.78 204.48" fill="none" stroke="#ff1a1a" stroke-width="1.25"  stroke-linejoin="round"/>
<path d="M28.40 340.10 L28.59 282.43 L29.02 272.25 L29.52 266.01 L30.69 251.62 L32.12 245.52 L34.23 240.36 L37.20 236.29 L41.30 233.17 L47.12 231.13 L48.24 230.64 L48.86 230.39 L49.48 230.14 L50.72 229.63 L51.96 229.14 L53.20 228.65 L54.44 228.15 L55.68 227.72 L56.92 227.47 L58.16 226.90 L59.40 226.46 L60.64 226.16 L61.88 225.66 L63.12 225.27 L64.36 224.90 L65.60 224.47 L66.84 223.93 L68.08 223.74 L69.32 223.26 L70.56 222.87 L71.80 222.79 L73.04 222.52 L74.28 222.18 L75.52 221.74 L76.76 221.30 L78.00 221.11 L79.24 221.19 L80.48 221.32 L81.72 221.10 L82.96 220.59 L84.20 220.12 L85.44 219.70 L86.68 219.53 L87.92 219.44 L89.16 218.95 L90.40 218.79 L91.64 218.36 L92.88 218.20 L94.12 218.35 L95.36 217.83 L96.60 217.50 L97.84 217.30 L99.08 216.70 L100.32 216.71 L101.56 216.80 L102.80 216.21 L104.04 216.44 L105.28 216.07 L106.52 215.55 L107.76 215.46 L109.00 215.08 L110.24 214.70 L111.48 214.62 L112.72 214.59 L113.96 214.30 L115.20 214.24 L116.44 214.20 L117.68 213.96 L118.92 213.83 L120.16 213.64 L121.40 213.63 L122.64 213.51 L123.88 213.45 L125.12 213.20 L126.36 212.77 L127.60 212.65 L128.84 212.52 L130.08 212.62 L131.32 212.42 L132.56 212.22 L133.80 211.87 L135.04 211.42 L136.28 211.05 L137.52 210.76 L138.76 210.65 L140.00 210.64 L141.24 210.85 L142.48 210.71 L143.72 210.52 L144.96 210.51 L146.20 210.35 L147.44 210.21 L148.68 210.30 L149.92 210.17 L151.16 210.01 L152.40 209.63 L153.64 209.15 L154.88 208.92 L156.12 208.98 L157.36 209.19 L158.60 209.31 L159.84 209.37 L161.08 209.23 L162.32 209.08 L163.56 208.78 L164.80 208.77 L166.04 208.43 L167.28 208.34 L168.52 208.20 L169.76 207.93 L171.00 207.79 L172.24 207.60 L173.48 207.54 L174.72 207.33 L175.96 207.22 L177.20 206.94 L178.44 207.05 L179.68 206.95 L180.92 206.98 L182.16 207.09 L183.40 206.87 L184.64 206.72 L185.88 206.58 L187.12 206.31 L188.36 206.31 L189.60 206.28 L190.84 206.01 L192.08 205.88 L193.32 205.79 L194.56 205.69 L195.80 205.80 L197.04 205.80 L198.28 205.66 L199.52 205.60 L200.76 205.48 L202.00 205.46 L203.24 205.36 L204.48 205.04 L205.72 204.87 L206.96 204.71 L208.20 204.65 L209.44 204.69 L210.68 204.63 L211.92 204.55 L213.16 204.45 L214.40 204.40" fill="none" stroke="#ff4818" stroke-width="1.25"  stroke-linejoin="round"/>
</g>
<g clip-path="url(#cB)">
<path d="M273.70 144.00 L274.20 147.30 L280.00 146.60 L290.00 145.60 L310.00 144.80 L459.30 145.10" fill="none" stroke="#7a1212" stroke-width="0.9"  stroke-linejoin="round"/>
<path d="M273.70 146.00 L275.00 147.80 L285.00 146.50 L300.00 145.60 L459.30 145.10" fill="none" stroke="#7a1212" stroke-width="0.9"  stroke-linejoin="round"/>
<path d="M273.70 116.00 L274.10 136.80 L275.90 138.20 L278.40 137.40 L280.50 136.60 L282.30 136.30 L284.50 137.40 L287.00 139.20 L293.90 140.10 L302.60 141.40 L311.40 142.30 L320.10 142.90 L332.00 143.40 L362.80 143.80 L400.00 144.50 L459.30 145.10" fill="none" stroke="#7d1010" stroke-width="1.0"  stroke-linejoin="round"/>
<path d="M273.60 103.60 L274.10 113.50 L274.70 118.40 L275.90 121.40 L278.40 123.90 L283.30 126.40 L287.70 128.70 L293.90 130.50 L302.60 132.70 L311.40 134.40 L320.10 135.70 L332.00 136.60 L351.90 138.40 L373.80 140.60 L400.00 142.30 L424.60 143.50 L459.30 145.10" fill="none" stroke="#7d1010" stroke-width="1.0"  stroke-linejoin="round"/>
<path d="M274.00 22.98 L274.30 30.57 L274.60 40.57 L275.00 47.56 L275.90 60.53 L276.30 64.02 L277.50 71.48 L278.60 76.95 L280.40 81.87 L281.70 85.81 L283.00 88.73 L284.50 91.64 L286.10 94.84 L288.50 98.86 L291.00 102.17 L294.00 105.45 L297.60 108.74 L301.50 111.71 L305.80 114.34 L310.00 116.82 L314.00 118.90 L318.00 120.90 L322.20 122.79 L330.00 125.43 L340.90 128.78 L351.90 131.50 L362.80 134.10 L373.80 136.30 L384.70 138.00 L395.00 139.30 L400.00 140.00 L414.70 141.70 L434.40 143.80 L459.30 145.80" fill="none" stroke="#a01818" stroke-width="1.0"  stroke-linejoin="round"/>
<path d="M273.50 61.16 L273.90 66.85 L274.30 72.65 L275.10 82.43 L276.00 86.31 L276.70 88.19 L277.90 90.56 L278.90 88.24 L279.60 89.22 L280.80 91.18 L283.30 94.60 L286.60 99.99 L289.40 103.90 L293.00 107.79 L297.60 111.21 L305.80 116.16 L314.00 119.71 L322.20 123.17 L333.00 126.65 L351.90 131.90 L373.80 136.30 L400.00 140.10 L430.00 143.00 L459.30 145.10" fill="none" stroke="#7d1010" stroke-width="1.0"  stroke-linejoin="round"/>
<path d="M273.70 146.50 L274.20 148.00 L277.20 147.10 L283.00 146.30 L289.50 145.40 L300.00 144.90 L307.00 144.60 L332.00 144.90 L370.00 145.20 L400.00 145.40 L430.00 145.30 L459.30 145.10" fill="none" stroke="#000" stroke-width="1.9" stroke-dasharray="2.8 1.1 0.9 1.1" stroke-linejoin="round"/>
<path d="M274.00 22.28 L274.30 29.87 L274.60 39.87 L275.00 46.86 L275.90 59.83 L276.30 63.32 L277.50 70.78 L278.60 76.25 L280.40 81.17 L281.70 85.11 L283.00 88.03 L284.50 90.94 L286.10 94.14 L288.50 98.16 L291.00 101.47 L294.00 104.75 L297.60 108.04 L301.50 111.01 L305.80 113.64 L310.00 116.12 L314.00 118.20 L318.00 120.20 L322.20 122.09 L330.00 124.73 L340.90 128.08 L351.90 130.80 L362.80 133.40 L373.80 135.60 L384.70 137.30 L395.00 138.60 L400.00 139.30 L414.70 141.00 L434.40 143.10 L459.30 145.10" fill="none" stroke="#000" stroke-width="1.8"  stroke-linejoin="round"/>
</g>
<g clip-path="url(#cC)">
<path d="M518.70 143.70 L519.20 147.66 L525.00 146.82 L535.00 145.62 L555.00 144.66 L704.30 145.02" fill="none" stroke="#7a1212" stroke-width="0.9"  stroke-linejoin="round"/>
<path d="M518.70 146.10 L520.00 148.27 L530.00 146.70 L545.00 145.62 L704.30 145.02" fill="none" stroke="#7a1212" stroke-width="0.9"  stroke-linejoin="round"/>
<path d="M518.70 110.02 L519.10 135.04 L520.90 136.72 L523.40 135.76 L525.50 134.80 L527.30 134.44 L529.50 135.76 L532.00 137.92 L538.90 139.01 L547.60 140.57 L556.40 141.65 L565.10 142.37 L577.00 142.97 L607.80 143.46 L645.00 144.30 L704.30 145.02" fill="none" stroke="#7d1010" stroke-width="1.0"  stroke-linejoin="round"/>
<path d="M518.60 95.11 L519.10 107.02 L519.70 112.91 L520.90 116.52 L523.40 119.52 L528.30 122.53 L532.70 125.30 L538.90 127.46 L547.60 130.11 L556.40 132.15 L565.10 133.71 L577.00 134.80 L596.90 136.96 L618.80 139.61 L645.00 141.65 L669.60 143.09 L704.30 145.02" fill="none" stroke="#7d1010" stroke-width="1.0"  stroke-linejoin="round"/>
<path d="M519.00 -1.84 L519.30 7.29 L519.60 19.31 L520.00 27.71 L520.90 43.32 L521.30 47.52 L522.50 56.49 L523.60 63.06 L525.40 68.98 L526.70 73.71 L528.00 77.23 L529.50 80.73 L531.10 84.57 L533.50 89.42 L536.00 93.40 L539.00 97.34 L542.60 101.29 L546.50 104.87 L550.80 108.02 L555.00 111.01 L559.00 113.51 L563.00 115.92 L567.20 118.19 L575.00 121.37 L585.90 125.39 L596.90 128.66 L607.80 131.79 L618.80 134.44 L629.70 136.48 L640.00 138.04 L645.00 138.89 L659.70 140.93 L679.40 143.46 L704.30 145.86" fill="none" stroke="#a01818" stroke-width="1.0"  stroke-linejoin="round"/>
<path d="M518.50 44.07 L518.90 50.92 L519.30 57.89 L520.10 69.65 L521.00 74.32 L521.70 76.58 L522.90 79.43 L523.90 76.64 L524.60 77.81 L525.80 80.18 L528.30 84.29 L531.60 90.77 L534.40 95.47 L538.00 100.15 L542.60 104.26 L550.80 110.22 L559.00 114.48 L567.20 118.64 L578.00 122.83 L596.90 129.14 L618.80 134.44 L645.00 139.01 L675.00 142.49 L704.30 145.02" fill="none" stroke="#7d1010" stroke-width="1.0"  stroke-linejoin="round"/>
<path d="M518.70 146.70 L519.20 148.51 L522.20 147.42 L528.00 146.46 L534.50 145.38 L545.00 144.78 L552.00 144.42 L577.00 144.78 L615.00 145.14 L645.00 145.38 L675.00 145.26 L704.30 145.02" fill="none" stroke="#000" stroke-width="1.9" stroke-dasharray="2.8 1.1 0.9 1.1" stroke-linejoin="round"/>
<path d="M519.00 -2.68 L519.30 6.45 L519.60 18.47 L520.00 26.87 L520.90 42.48 L521.30 46.67 L522.50 55.65 L523.60 62.21 L525.40 68.14 L526.70 72.87 L528.00 76.39 L529.50 79.89 L531.10 83.73 L533.50 88.57 L536.00 92.55 L539.00 96.50 L542.60 100.45 L546.50 104.02 L550.80 107.18 L555.00 110.17 L559.00 112.67 L563.00 115.08 L567.20 117.34 L575.00 120.52 L585.90 124.55 L596.90 127.82 L607.80 130.95 L618.80 133.59 L629.70 135.64 L640.00 137.20 L645.00 138.04 L659.70 140.09 L679.40 142.61 L704.30 145.02" fill="none" stroke="#000" stroke-width="1.8"  stroke-linejoin="round"/>
</g>
<g clip-path="url(#cE)">
<path d="M273.40 326.00 L274.30 331.30 L275.50 332.10 L276.00 332.93 L277.00 333.87 L278.00 335.19 L279.00 335.94 L280.00 336.12 L281.00 335.56 L282.00 335.82 L283.00 335.46 L284.00 336.72 L285.00 336.68 L286.00 335.85 L287.00 336.09 L288.00 336.05 L289.00 337.13 L290.00 336.59 L291.00 336.26 L292.00 336.75 L293.00 336.52 L294.00 336.88 L295.00 336.41 L296.00 336.78 L297.00 336.93 L298.00 337.03 L299.00 337.27 L300.00 337.12 L301.00 337.00 L302.00 336.68 L303.00 336.94 L304.00 337.19 L305.00 337.57 L306.00 337.30 L307.00 337.09 L308.00 337.30 L309.00 337.31 L310.00 337.40 L311.00 337.42 L312.00 337.29 L313.00 337.94 L314.00 337.88 L315.00 337.69 L316.00 337.67 L317.00 337.58 L318.00 337.87 L319.00 337.70 L320.00 337.61 L321.00 337.64 L322.00 337.82 L323.00 338.21 L324.00 338.19 L325.00 338.26 L326.00 338.26 L327.00 338.43 L328.00 338.21 L329.00 338.32 L334.88 338.50 L340.03 338.58 L345.42 338.78 L351.31 338.74 L357.20 338.87 L362.53 339.08 L367.74 339.19 L373.82 339.28 L379.52 339.40 L385.10 339.44 L390.68 339.45 L396.26 339.52 L401.84 339.69 L407.42 339.82 L413.62 339.82 L419.82 339.90 L427.26 340.00 L434.70 340.09 L440.90 340.16 L447.10 340.23 L453.30 340.24 L459.50 340.30" fill="none" stroke="#560000" stroke-width="1.25"  stroke-linejoin="round"/>
<path d="M273.40 314.00 L273.80 321.00 L274.30 325.10 L275.90 327.20 L276.00 327.29 L277.00 328.33 L278.00 328.91 L279.00 328.89 L280.00 329.81 L281.00 329.81 L282.00 330.30 L283.00 331.04 L284.00 332.04 L285.00 332.34 L286.00 332.27 L287.00 332.64 L288.00 333.47 L289.00 333.37 L290.00 333.59 L291.00 333.40 L292.00 333.99 L293.00 333.80 L294.00 334.01 L295.00 333.71 L296.00 334.40 L297.00 334.08 L298.00 334.30 L299.00 334.54 L300.00 334.55 L301.00 335.03 L302.00 334.72 L303.00 334.84 L304.00 335.00 L305.00 334.83 L306.00 335.04 L307.00 335.05 L308.00 335.20 L309.00 335.01 L310.00 335.47 L311.00 335.28 L312.00 334.96 L313.00 335.31 L314.00 335.39 L315.00 335.68 L316.00 335.14 L317.00 335.76 L318.00 335.73 L319.00 335.78 L320.00 335.99 L321.00 335.88 L322.00 335.98 L323.00 336.15 L324.00 336.15 L325.00 336.54 L326.00 336.35 L327.00 336.34 L328.00 336.48 L329.00 336.59 L334.88 336.87 L340.03 336.87 L345.42 337.19 L351.31 337.31 L357.20 337.58 L362.53 337.70 L367.74 337.96 L373.82 338.33 L379.52 338.51 L385.10 338.58 L390.68 338.83 L396.26 339.00 L401.84 339.15 L407.42 339.30 L413.62 339.45 L419.82 339.64 L427.26 339.74 L434.70 339.84 L440.90 339.97 L447.10 340.13 L453.30 340.22 L459.50 340.30" fill="none" stroke="#6e0000" stroke-width="1.25"  stroke-linejoin="round"/>
<path d="M273.40 300.00 L273.80 312.00 L274.30 320.00 L274.80 324.80 L275.30 324.00 L276.00 322.74 L277.00 322.01 L278.00 322.18 L279.00 321.83 L280.00 322.97 L281.00 323.77 L282.00 324.63 L283.00 325.35 L284.00 326.48 L285.00 326.84 L286.00 327.66 L287.00 328.07 L288.00 328.27 L289.00 328.72 L290.00 328.80 L291.00 329.08 L292.00 330.01 L293.00 330.31 L294.00 329.98 L295.00 330.33 L296.00 330.54 L297.00 330.65 L298.00 330.63 L299.00 330.90 L300.00 331.27 L301.00 331.26 L302.00 331.59 L303.00 331.43 L304.00 331.74 L305.00 331.92 L306.00 332.06 L307.00 332.26 L308.00 332.54 L309.00 332.69 L310.00 332.21 L311.00 332.49 L312.00 332.77 L313.00 332.60 L314.00 332.92 L315.00 333.31 L316.00 333.09 L317.00 333.37 L318.00 333.68 L319.00 333.67 L320.00 333.78 L321.00 333.77 L322.00 334.02 L323.00 333.60 L324.00 333.93 L325.00 334.19 L326.00 334.32 L327.00 334.31 L328.00 334.34 L329.00 334.34 L334.88 334.96 L340.03 335.69 L345.42 335.57 L351.31 335.80 L357.20 336.25 L362.53 336.60 L367.74 336.80 L373.82 337.47 L379.52 337.57 L385.10 337.76 L390.68 338.10 L396.26 338.30 L401.84 338.54 L407.42 338.79 L413.62 339.03 L419.82 339.23 L427.26 339.45 L434.70 339.65 L440.90 339.81 L447.10 340.01 L453.30 340.15 L459.50 340.30" fill="none" stroke="#880000" stroke-width="1.25"  stroke-linejoin="round"/>
<path d="M273.50 262.00 L273.70 272.00 L273.80 282.00 L274.30 291.30 L275.20 300.60 L276.60 306.20 L278.40 310.80 L280.30 314.50 L282.50 318.10 L284.10 319.40 L287.40 321.40 L291.50 323.10 L295.00 324.30 L300.00 325.50 L302.64 326.35 L305.74 327.13 L309.46 327.85 L313.80 328.75 L318.14 329.63 L322.17 330.46 L326.20 331.13 L329.92 331.76 L334.88 332.44 L340.03 333.15 L345.42 333.59 L351.31 334.07 L357.20 334.61 L362.53 335.10 L367.74 335.55 L373.82 336.08 L379.52 336.46 L385.10 336.83 L390.68 337.20 L396.26 337.58 L401.84 337.92 L407.42 338.26 L413.62 338.54 L419.82 338.83 L427.26 339.13 L434.70 339.42 L440.90 339.66 L447.10 339.90 L453.30 340.10 L459.50 340.30" fill="none" stroke="#a00404" stroke-width="1.25"  stroke-linejoin="round"/>
<path d="M273.50 287.21 L273.69 287.47 L273.87 287.74 L274.12 288.11 L274.31 291.23 L274.49 294.36 L274.74 296.10 L275.11 298.71 L275.48 299.83 L275.92 301.14 L276.29 301.80 L276.72 302.57 L277.22 303.36 L277.84 304.37 L278.71 305.79 L279.70 307.42 L281.00 309.60 L282.18 311.13 L283.48 312.86 L284.66 313.99 L286.02 315.33 L287.76 316.52 L289.62 317.58 L292.22 319.06 L294.58 319.88 L297.06 320.84 L299.79 321.93 L302.64 323.04 L305.74 323.99 L309.46 324.86 L313.80 325.96 L318.14 327.05 L322.17 328.07 L326.20 328.90 L329.92 329.67 L334.88 330.51 L340.03 331.39 L345.42 331.93 L351.31 332.53 L357.20 333.20 L362.53 333.81 L367.74 334.37 L373.82 335.04 L379.52 335.51 L385.10 335.97 L390.68 336.43 L396.26 336.90 L401.84 337.32 L407.42 337.75 L413.62 338.11 L419.82 338.46 L427.26 338.83 L434.70 339.20 L440.90 339.50 L447.10 339.81 L453.30 340.05 L459.50 340.30" fill="none" stroke="#c80808" stroke-width="1.25"  stroke-linejoin="round"/>
<path d="M273.50 271.52 L273.69 271.92 L273.87 272.33 L274.12 272.87 L274.31 276.96 L274.49 281.05 L274.74 283.34 L275.11 286.79 L275.48 288.31 L275.92 290.08 L276.29 291.00 L276.72 292.06 L277.22 293.16 L277.84 294.54 L278.71 296.47 L279.70 298.68 L281.00 301.59 L282.18 303.64 L283.48 305.92 L284.66 307.43 L286.02 309.19 L287.76 310.78 L289.62 312.19 L292.22 314.13 L294.58 315.22 L297.06 316.47 L299.79 317.87 L302.64 319.28 L305.74 320.48 L309.46 321.58 L313.80 322.96 L318.14 324.30 L322.17 325.54 L326.20 326.56 L329.92 327.50 L334.88 328.52 L340.03 329.59 L345.42 330.24 L351.31 330.96 L357.20 331.77 L362.53 332.50 L367.74 333.19 L373.82 333.98 L379.52 334.55 L385.10 335.10 L390.68 335.66 L396.26 336.22 L401.84 336.73 L407.42 337.24 L413.62 337.67 L419.82 338.10 L427.26 338.54 L434.70 338.98 L440.90 339.35 L447.10 339.71 L453.30 340.00 L459.50 340.30" fill="none" stroke="#e00c0c" stroke-width="1.25"  stroke-linejoin="round"/>
<path d="M273.50 260.66 L273.69 261.12 L273.87 261.58 L274.12 262.20 L274.31 266.93 L274.49 271.66 L274.74 274.32 L275.11 278.30 L275.48 280.05 L275.92 282.10 L276.29 283.15 L276.72 284.38 L277.22 285.64 L277.84 287.22 L278.71 289.46 L279.70 292.00 L281.00 295.36 L282.18 297.73 L283.48 300.37 L284.66 302.11 L286.02 304.14 L287.76 305.98 L289.62 307.61 L292.22 309.85 L294.58 311.11 L297.06 312.55 L299.79 314.18 L302.64 315.82 L305.74 317.20 L309.46 318.49 L313.80 320.08 L318.14 321.64 L322.17 323.09 L326.20 324.27 L329.92 325.37 L334.88 326.56 L340.03 327.80 L345.42 328.57 L351.31 329.41 L357.20 330.35 L362.53 331.20 L367.74 332.00 L373.82 332.93 L379.52 333.59 L385.10 334.23 L390.68 334.89 L396.26 335.54 L401.84 336.13 L407.42 336.73 L413.62 337.23 L419.82 337.73 L427.26 338.25 L434.70 338.76 L440.90 339.19 L447.10 339.61 L453.30 339.95 L459.50 340.30" fill="none" stroke="#f51010" stroke-width="1.25"  stroke-linejoin="round"/>
<path d="M273.50 243.76 L273.69 244.38 L273.87 245.00 L274.12 245.83 L274.31 251.60 L274.49 257.37 L274.74 260.63 L275.11 265.53 L275.48 267.72 L275.92 270.27 L276.29 271.60 L276.72 273.16 L277.22 274.77 L277.84 276.77 L278.71 279.57 L279.70 282.74 L281.00 286.90 L282.18 289.84 L283.48 293.09 L284.66 295.24 L286.02 297.74 L287.76 300.00 L289.62 302.02 L292.22 304.76 L294.58 306.31 L297.06 308.07 L299.79 310.02 L302.64 311.98 L305.74 313.63 L309.46 315.16 L313.80 317.04 L318.14 318.86 L322.17 320.55 L326.20 321.92 L329.92 323.19 L334.88 324.57 L340.03 326.00 L345.42 326.88 L351.31 327.84 L357.20 328.92 L362.53 329.90 L367.74 330.81 L373.82 331.88 L379.52 332.63 L385.10 333.37 L390.68 334.11 L396.26 334.86 L401.84 335.54 L407.42 336.22 L413.62 336.79 L419.82 337.36 L427.26 337.95 L434.70 338.54 L440.90 339.03 L447.10 339.51 L453.30 339.91 L459.50 340.30" fill="none" stroke="#ff1a1a" stroke-width="1.25"  stroke-linejoin="round"/>
<path d="M273.50 234.11 L273.69 234.77 L273.87 235.42 L274.12 236.30 L274.31 242.63 L274.49 248.97 L274.74 252.54 L275.11 257.90 L275.48 260.27 L275.92 263.05 L276.29 264.50 L276.72 266.18 L277.22 267.91 L277.84 270.08 L278.71 273.13 L279.70 276.57 L281.00 281.11 L282.18 284.32 L283.48 287.87 L284.66 290.23 L286.02 292.96 L287.76 295.43 L289.62 297.64 L292.22 300.64 L294.58 302.34 L297.06 304.26 L299.79 306.42 L302.64 308.59 L305.74 310.42 L309.46 312.11 L313.80 314.20 L318.14 316.23 L322.17 318.12 L326.20 319.65 L329.92 321.07 L334.88 322.61 L340.03 324.22 L345.42 325.21 L351.31 326.29 L357.20 327.50 L362.53 328.60 L367.74 329.63 L373.82 330.82 L379.52 331.67 L385.10 332.50 L390.68 333.34 L396.26 334.18 L401.84 334.94 L407.42 335.71 L413.62 336.35 L419.82 336.99 L427.26 337.66 L434.70 338.33 L440.90 338.87 L447.10 339.41 L453.30 339.86 L459.50 340.30" fill="none" stroke="#ff4818" stroke-width="1.25"  stroke-linejoin="round"/>
</g>
<g clip-path="url(#cF)">
<path d="M518.40 323.29 L519.30 329.67 L520.50 330.63 L521.00 331.64 L522.00 332.76 L523.00 334.35 L524.00 335.26 L525.00 335.48 L526.00 334.80 L527.00 335.12 L528.00 334.68 L529.00 336.19 L530.00 336.14 L531.00 335.14 L532.00 335.43 L533.00 335.39 L534.00 336.68 L535.00 336.04 L536.00 335.64 L537.00 336.23 L538.00 335.96 L539.00 336.38 L540.00 335.82 L541.00 336.27 L542.00 336.45 L543.00 336.57 L544.00 336.86 L545.00 336.68 L546.00 336.52 L547.00 336.15 L548.00 336.45 L549.00 336.75 L550.00 337.21 L551.00 336.89 L552.00 336.64 L553.00 336.89 L554.00 336.91 L555.00 337.01 L556.00 337.04 L557.00 336.88 L558.00 337.66 L559.00 337.59 L560.00 337.36 L561.00 337.34 L562.00 337.22 L563.00 337.58 L564.00 337.37 L565.00 337.27 L566.00 337.30 L567.00 337.52 L568.00 337.98 L569.00 337.96 L570.00 338.05 L571.00 338.05 L572.00 338.25 L573.00 337.98 L574.00 338.12 L579.88 338.34 L585.03 338.43 L590.42 338.67 L596.31 338.63 L602.20 338.78 L607.53 339.03 L612.74 339.16 L618.82 339.27 L624.52 339.42 L630.10 339.46 L635.68 339.47 L641.26 339.57 L646.84 339.77 L652.42 339.92 L658.62 339.92 L664.82 340.01 L672.26 340.14 L679.70 340.24 L685.90 340.34 L692.10 340.41 L698.30 340.43 L704.50 340.50" fill="none" stroke="#560000" stroke-width="1.25"  stroke-linejoin="round"/>
<path d="M518.40 308.85 L518.80 317.28 L519.30 322.21 L520.90 324.74 L521.00 324.85 L522.00 326.10 L523.00 326.80 L524.00 326.77 L525.00 327.87 L526.00 327.88 L527.00 328.46 L528.00 329.36 L529.00 330.56 L530.00 330.92 L531.00 330.83 L532.00 331.28 L533.00 332.28 L534.00 332.16 L535.00 332.43 L536.00 332.20 L537.00 332.90 L538.00 332.68 L539.00 332.93 L540.00 332.57 L541.00 333.40 L542.00 333.01 L543.00 333.29 L544.00 333.57 L545.00 333.58 L546.00 334.16 L547.00 333.79 L548.00 333.93 L549.00 334.13 L550.00 333.92 L551.00 334.17 L552.00 334.18 L553.00 334.36 L554.00 334.14 L555.00 334.69 L556.00 334.47 L557.00 334.07 L558.00 334.50 L559.00 334.59 L560.00 334.94 L561.00 334.29 L562.00 335.04 L563.00 335.00 L564.00 335.06 L565.00 335.31 L566.00 335.18 L567.00 335.30 L568.00 335.51 L569.00 335.51 L570.00 335.98 L571.00 335.75 L572.00 335.73 L573.00 335.90 L574.00 336.04 L579.88 336.38 L585.03 336.37 L590.42 336.75 L596.31 336.90 L602.20 337.23 L607.53 337.37 L612.74 337.68 L618.82 338.12 L624.52 338.35 L630.10 338.43 L635.68 338.73 L641.26 338.94 L646.84 339.11 L652.42 339.30 L658.62 339.48 L664.82 339.71 L672.26 339.82 L679.70 339.94 L685.90 340.10 L692.10 340.29 L698.30 340.40 L704.50 340.50" fill="none" stroke="#6e0000" stroke-width="1.25"  stroke-linejoin="round"/>
<path d="M518.40 292.01 L518.80 306.45 L519.30 316.07 L519.80 321.85 L520.30 320.89 L521.00 319.37 L522.00 318.49 L523.00 318.70 L524.00 318.28 L525.00 319.64 L526.00 320.60 L527.00 321.64 L528.00 322.51 L529.00 323.87 L530.00 324.31 L531.00 325.29 L532.00 325.79 L533.00 326.03 L534.00 326.57 L535.00 326.66 L536.00 327.00 L537.00 328.12 L538.00 328.48 L539.00 328.08 L540.00 328.51 L541.00 328.75 L542.00 328.88 L543.00 328.87 L544.00 329.19 L545.00 329.63 L546.00 329.63 L547.00 330.02 L548.00 329.83 L549.00 330.20 L550.00 330.42 L551.00 330.58 L552.00 330.83 L553.00 331.16 L554.00 331.34 L555.00 330.77 L556.00 331.10 L557.00 331.44 L558.00 331.23 L559.00 331.62 L560.00 332.09 L561.00 331.82 L562.00 332.17 L563.00 332.54 L564.00 332.52 L565.00 332.65 L566.00 332.64 L567.00 332.95 L568.00 332.44 L569.00 332.84 L570.00 333.14 L571.00 333.31 L572.00 333.29 L573.00 333.33 L574.00 333.33 L579.88 334.07 L585.03 334.95 L590.42 334.81 L596.31 335.09 L602.20 335.63 L607.53 336.05 L612.74 336.28 L618.82 337.10 L624.52 337.21 L630.10 337.45 L635.68 337.85 L641.26 338.09 L646.84 338.38 L652.42 338.69 L658.62 338.97 L664.82 339.21 L672.26 339.47 L679.70 339.72 L685.90 339.91 L692.10 340.15 L698.30 340.32 L704.50 340.50" fill="none" stroke="#880000" stroke-width="1.25"  stroke-linejoin="round"/>
<path d="M518.50 246.28 L518.70 258.31 L518.80 270.35 L519.30 281.54 L520.20 292.73 L521.60 299.47 L523.40 305.00 L525.30 309.45 L527.50 313.79 L529.10 315.35 L532.40 317.76 L536.50 319.80 L540.00 321.25 L545.00 322.69 L547.64 323.71 L550.74 324.65 L554.46 325.52 L558.80 326.60 L563.14 327.66 L567.17 328.66 L571.20 329.47 L574.92 330.22 L579.88 331.04 L585.03 331.89 L590.42 332.42 L596.31 333.00 L602.20 333.65 L607.53 334.24 L612.74 334.79 L618.82 335.43 L624.52 335.88 L630.10 336.33 L635.68 336.78 L641.26 337.22 L646.84 337.63 L652.42 338.04 L658.62 338.39 L664.82 338.73 L672.26 339.09 L679.70 339.44 L685.90 339.73 L692.10 340.02 L698.30 340.26 L704.50 340.50" fill="none" stroke="#a00404" stroke-width="1.25"  stroke-linejoin="round"/>
<path d="M518.50 276.61 L518.69 276.93 L518.87 277.26 L519.12 277.70 L519.31 281.46 L519.49 285.22 L519.74 287.31 L520.11 290.45 L520.48 291.80 L520.92 293.38 L521.29 294.17 L521.72 295.10 L522.22 296.06 L522.84 297.26 L523.71 298.97 L524.70 300.93 L526.00 303.56 L527.18 305.40 L528.48 307.48 L529.66 308.84 L531.02 310.45 L532.76 311.88 L534.62 313.16 L537.22 314.94 L539.58 315.93 L542.06 317.08 L544.79 318.39 L547.64 319.74 L550.74 320.87 L554.46 321.92 L558.80 323.25 L563.14 324.55 L567.17 325.78 L571.20 326.78 L574.92 327.70 L579.88 328.72 L585.03 329.78 L590.42 330.43 L596.31 331.15 L602.20 331.95 L607.53 332.69 L612.74 333.37 L618.82 334.17 L624.52 334.73 L630.10 335.29 L635.68 335.85 L641.26 336.41 L646.84 336.92 L652.42 337.43 L658.62 337.86 L664.82 338.29 L672.26 338.73 L679.70 339.18 L685.90 339.54 L692.10 339.91 L698.30 340.20 L704.50 340.50" fill="none" stroke="#c80808" stroke-width="1.25"  stroke-linejoin="round"/>
<path d="M518.50 257.73 L518.69 258.22 L518.87 258.71 L519.12 259.36 L519.31 264.28 L519.49 269.20 L519.74 271.96 L520.11 276.11 L520.48 277.94 L520.92 280.07 L521.29 281.17 L521.72 282.46 L522.22 283.78 L522.84 285.43 L523.71 287.76 L524.70 290.41 L526.00 293.92 L527.18 296.39 L528.48 299.14 L529.66 300.95 L531.02 303.07 L532.76 304.98 L534.62 306.68 L537.22 309.01 L539.58 310.32 L542.06 311.82 L544.79 313.51 L547.64 315.21 L550.74 316.65 L554.46 317.98 L558.80 319.63 L563.14 321.24 L567.17 322.74 L571.20 323.96 L574.92 325.09 L579.88 326.33 L585.03 327.61 L590.42 328.40 L596.31 329.26 L602.20 330.24 L607.53 331.12 L612.74 331.94 L618.82 332.90 L624.52 333.58 L630.10 334.24 L635.68 334.92 L641.26 335.59 L646.84 336.20 L652.42 336.82 L658.62 337.33 L664.82 337.85 L672.26 338.38 L679.70 338.92 L685.90 339.35 L692.10 339.79 L698.30 340.14 L704.50 340.50" fill="none" stroke="#e00c0c" stroke-width="1.25"  stroke-linejoin="round"/>
<path d="M518.50 244.67 L518.69 245.22 L518.87 245.78 L519.12 246.53 L519.31 252.22 L519.49 257.91 L519.74 261.10 L520.11 265.90 L520.48 268.00 L520.92 270.46 L521.29 271.73 L521.72 273.21 L522.22 274.73 L522.84 276.63 L523.71 279.32 L524.70 282.38 L526.00 286.42 L527.18 289.27 L528.48 292.45 L529.66 294.55 L531.02 296.99 L532.76 299.20 L534.62 301.16 L537.22 303.86 L539.58 305.37 L542.06 307.11 L544.79 309.06 L547.64 311.04 L550.74 312.71 L554.46 314.25 L558.80 316.17 L563.14 318.05 L567.17 319.80 L571.20 321.22 L574.92 322.53 L579.88 323.97 L585.03 325.46 L590.42 326.38 L596.31 327.39 L602.20 328.53 L607.53 329.56 L612.74 330.51 L618.82 331.63 L624.52 332.43 L630.10 333.20 L635.68 333.99 L641.26 334.77 L646.84 335.49 L652.42 336.20 L658.62 336.80 L664.82 337.40 L672.26 338.03 L679.70 338.65 L685.90 339.16 L692.10 339.67 L698.30 340.08 L704.50 340.50" fill="none" stroke="#f51010" stroke-width="1.25"  stroke-linejoin="round"/>
<path d="M518.50 224.34 L518.69 225.08 L518.87 225.83 L519.12 226.82 L519.31 233.76 L519.49 240.71 L519.74 244.63 L520.11 250.53 L520.48 253.16 L520.92 256.23 L521.29 257.84 L521.72 259.71 L522.22 261.64 L522.84 264.05 L523.71 267.42 L524.70 271.24 L526.00 276.24 L527.18 279.78 L528.48 283.69 L529.66 286.28 L531.02 289.28 L532.76 292.01 L534.62 294.44 L537.22 297.73 L539.58 299.60 L542.06 301.71 L544.79 304.07 L547.64 306.42 L550.74 308.41 L554.46 310.25 L558.80 312.52 L563.14 314.71 L567.17 316.74 L571.20 318.39 L574.92 319.91 L579.88 321.57 L585.03 323.29 L590.42 324.35 L596.31 325.50 L602.20 326.81 L607.53 327.99 L612.74 329.08 L618.82 330.36 L624.52 331.27 L630.10 332.16 L635.68 333.06 L641.26 333.95 L646.84 334.77 L652.42 335.59 L658.62 336.28 L664.82 336.96 L672.26 337.68 L679.70 338.39 L685.90 338.97 L692.10 339.55 L698.30 340.02 L704.50 340.50" fill="none" stroke="#ff1a1a" stroke-width="1.25"  stroke-linejoin="round"/>
<path d="M518.50 212.72 L518.69 213.51 L518.87 214.30 L519.12 215.36 L519.31 222.98 L519.49 230.60 L519.74 234.89 L520.11 241.34 L520.48 244.20 L520.92 247.55 L521.29 249.28 L521.72 251.31 L522.22 253.40 L522.84 256.01 L523.71 259.67 L524.70 263.82 L526.00 269.28 L527.18 273.14 L528.48 277.42 L529.66 280.25 L531.02 283.53 L532.76 286.51 L534.62 289.16 L537.22 292.78 L539.58 294.82 L542.06 297.14 L544.79 299.74 L547.64 302.34 L550.74 304.54 L554.46 306.58 L558.80 309.10 L563.14 311.54 L567.17 313.81 L571.20 315.66 L574.92 317.36 L579.88 319.22 L585.03 321.15 L590.42 322.34 L596.31 323.64 L602.20 325.10 L607.53 326.42 L612.74 327.66 L618.82 329.10 L624.52 330.12 L630.10 331.12 L635.68 332.12 L641.26 333.13 L646.84 334.06 L652.42 334.98 L658.62 335.75 L664.82 336.52 L672.26 337.32 L679.70 338.12 L685.90 338.78 L692.10 339.43 L698.30 339.97 L704.50 340.50" fill="none" stroke="#ff4818" stroke-width="1.25"  stroke-linejoin="round"/>
</g>
<path d="M642.9 19.30H665" stroke="#000" stroke-width="1.6"/>
<text x="666.40" y="22.30" font-size="7.1" text-anchor="start" font-weight="normal" textLength="32.35" lengthAdjust="spacingAndGlyphs" class="lg">Eff = 100%</text>
<path d="M642.9 28.45H665" stroke="#000" stroke-width="1.6" stroke-dasharray="3 1.2 0.8 1.2"/>
<text x="666.40" y="31.45" font-size="7.1" text-anchor="start" font-weight="normal" textLength="25.01" lengthAdjust="spacingAndGlyphs" class="lg">Eff = 0%</text>
<path d="M642.9 37.60H665" stroke="#ff5530" stroke-width="1.2"/>
<text x="666.40" y="40.60" font-size="7.1" text-anchor="start" font-weight="normal" textLength="33.21" lengthAdjust="spacingAndGlyphs" class="lg">Geo = 90%</text>
<path d="M642.9 46.75H665" stroke="#ff7272" stroke-width="1.2"/>
<text x="666.40" y="49.75" font-size="7.1" text-anchor="start" font-weight="normal" textLength="33.21" lengthAdjust="spacingAndGlyphs" class="lg">Geo = 80%</text>
<path d="M642.9 55.90H665" stroke="#fa6272" stroke-width="1.2"/>
<text x="666.40" y="58.90" font-size="7.1" text-anchor="start" font-weight="normal" textLength="33.21" lengthAdjust="spacingAndGlyphs" class="lg">Geo = 70%</text>
<path d="M642.9 65.05H665" stroke="#e83838" stroke-width="1.2"/>
<text x="666.40" y="68.05" font-size="7.1" text-anchor="start" font-weight="normal" textLength="33.21" lengthAdjust="spacingAndGlyphs" class="lg">Geo = 60%</text>
<path d="M642.9 74.20H665" stroke="#b00404" stroke-width="1.2"/>
<text x="666.40" y="77.20" font-size="7.1" text-anchor="start" font-weight="normal" textLength="33.21" lengthAdjust="spacingAndGlyphs" class="lg">Geo = 50%</text>
<path d="M642.9 83.35H665" stroke="#a00008" stroke-width="1.2"/>
<text x="666.40" y="86.35" font-size="7.1" text-anchor="start" font-weight="normal" textLength="33.21" lengthAdjust="spacingAndGlyphs" class="lg">Geo = 40%</text>
<path d="M642.9 92.50H665" stroke="#983838" stroke-width="1.2"/>
<text x="666.40" y="95.50" font-size="7.1" text-anchor="start" font-weight="normal" textLength="33.21" lengthAdjust="spacingAndGlyphs" class="lg">Geo = 30%</text>
<path d="M642.9 101.65H665" stroke="#884040" stroke-width="1.2"/>
<text x="666.40" y="104.65" font-size="7.1" text-anchor="start" font-weight="normal" textLength="33.21" lengthAdjust="spacingAndGlyphs" class="lg">Geo = 20%</text>
<path d="M642.9 110.80H665" stroke="#8c6a6a" stroke-width="1.2"/>
<text x="666.40" y="113.80" font-size="7.1" text-anchor="start" font-weight="normal" textLength="33.21" lengthAdjust="spacingAndGlyphs" class="lg">Geo = 10%</text>
<path d="M646.9 211.00H669.5" stroke="#ff5020" stroke-width="1.1"/>
<text x="671.10" y="214.00" font-size="7.1" text-anchor="start" font-weight="normal" textLength="28.68" lengthAdjust="spacingAndGlyphs" class="lg">Eff = 90%</text>
<path d="M646.9 220.10H669.5" stroke="#ff5c5c" stroke-width="1.1"/>
<text x="671.10" y="223.10" font-size="7.1" text-anchor="start" font-weight="normal" textLength="28.68" lengthAdjust="spacingAndGlyphs" class="lg">Eff = 80%</text>
<path d="M646.9 229.20H669.5" stroke="#ff5858" stroke-width="1.1"/>
<text x="671.10" y="232.20" font-size="7.1" text-anchor="start" font-weight="normal" textLength="28.68" lengthAdjust="spacingAndGlyphs" class="lg">Eff = 70%</text>
<path d="M646.9 238.30H669.5" stroke="#f03434" stroke-width="1.1"/>
<text x="671.10" y="241.30" font-size="7.1" text-anchor="start" font-weight="normal" textLength="28.68" lengthAdjust="spacingAndGlyphs" class="lg">Eff = 60%</text>
<path d="M646.9 247.40H669.5" stroke="#d02828" stroke-width="1.1"/>
<text x="671.10" y="250.40" font-size="7.1" text-anchor="start" font-weight="normal" textLength="28.68" lengthAdjust="spacingAndGlyphs" class="lg">Eff = 50%</text>
<path d="M646.9 256.50H669.5" stroke="#980000" stroke-width="1.1"/>
<text x="671.10" y="259.50" font-size="7.1" text-anchor="start" font-weight="normal" textLength="28.68" lengthAdjust="spacingAndGlyphs" class="lg">Eff = 40%</text>
<path d="M646.9 265.60H669.5" stroke="#983030" stroke-width="1.1"/>
<text x="671.10" y="268.60" font-size="7.1" text-anchor="start" font-weight="normal" textLength="28.68" lengthAdjust="spacingAndGlyphs" class="lg">Eff = 30%</text>
<path d="M646.9 274.70H669.5" stroke="#883636" stroke-width="1.1"/>
<text x="671.10" y="277.70" font-size="7.1" text-anchor="start" font-weight="normal" textLength="28.68" lengthAdjust="spacingAndGlyphs" class="lg">Eff = 20%</text>
<path d="M646.9 283.80H669.5" stroke="#8a6262" stroke-width="1.1"/>
<text x="671.10" y="286.80" font-size="7.1" text-anchor="start" font-weight="normal" textLength="28.68" lengthAdjust="spacingAndGlyphs" class="lg">Eff = 10%</text></svg>
</body></html>
